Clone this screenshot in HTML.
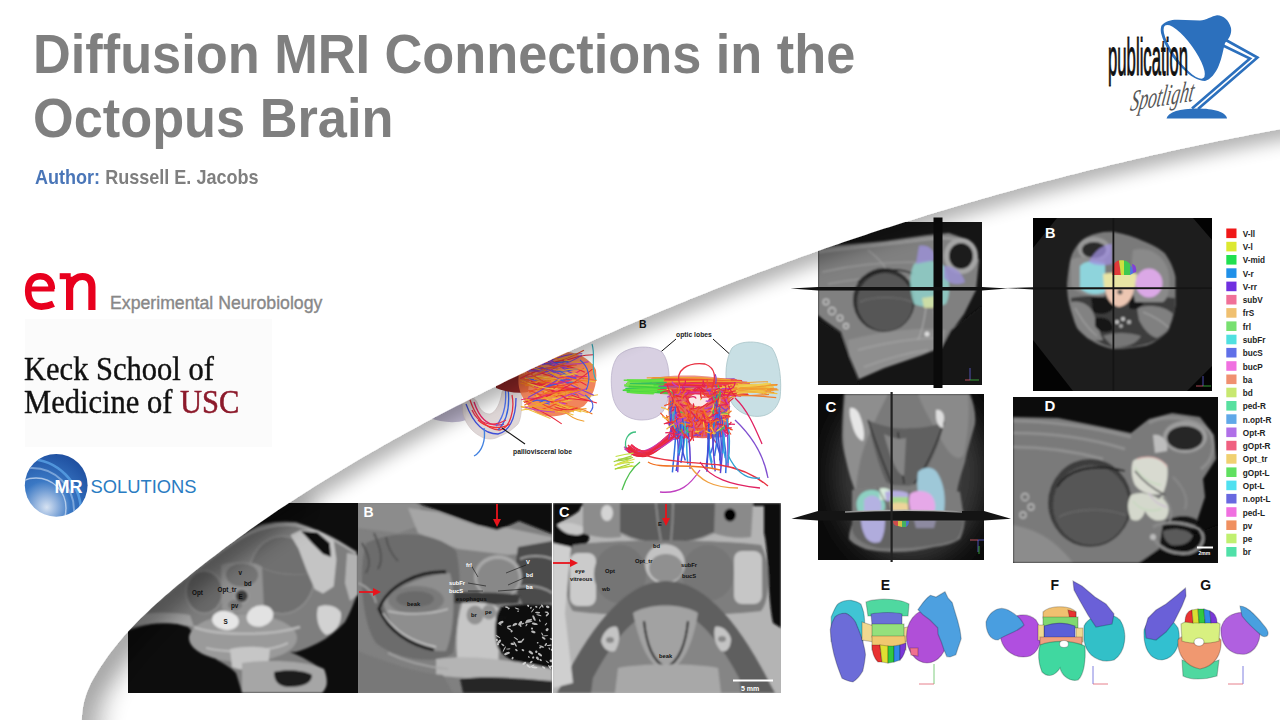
<!DOCTYPE html>
<html><head><meta charset="utf-8">
<style>
html,body{margin:0;padding:0;background:#fff;}
#s{position:relative;width:1280px;height:720px;overflow:hidden;background:#fff;font-family:"Liberation Sans",sans-serif;}
.abs{position:absolute;}
#title{position:absolute;left:33px;top:22px;color:#7f7f7f;font-weight:bold;font-size:55px;line-height:64px;white-space:nowrap;transform:scaleX(0.951);transform-origin:0 0;}
#author{position:absolute;left:35px;top:165px;font-weight:bold;font-size:20.5px;color:#7f7f7f;white-space:nowrap;transform:scaleX(0.88);transform-origin:0 0;}
#author b{color:#4a76b8;}
</style></head><body>
<div id="s">
  <!-- bottom-left MRI strip -->

  <!-- MRI panel A -->
  <svg class="abs" style="left:128px;top:503px" width="230" height="190" viewBox="0 0 230 190">
    <defs>
      <filter id="bA" x="-5%" y="-5%" width="110%" height="110%"><feGaussianBlur stdDeviation="1"/></filter>
    </defs>
    <rect width="230" height="190" fill="#0d0d0d"/>
    <g filter="url(#bA)">
      <path fill="#7e7e7e" d="M0,116 C8,110 12,108 16,105 C35,90 50,75 68,62 C85,50 100,40 114,32 C122,27 128,23 135,21 C148,18 158,18 168,19 C182,24 196,30 206,35 C215,40 222,45 229,50 L230,89 C226,100 222,110 217,119 C208,128 200,135 190,140 C182,144 175,147 168,149 L162,149 C168,151 174,154 179,157 C186,161 192,164 195,168 C198,174 199,180 198,184 L189,190 L114,190 C112,183 110,176 108,170 C102,164 95,160 89,157 C83,150 78,144 73,138 C68,133 64,128 60,124 C50,121 42,119 35,119 C27,120 18,122 11,124 L0,127 Z"/>
      <path fill="none" stroke="#a8a8a8" stroke-width="3" d="M30,97 C50,80 80,55 114,34 C130,25 150,20 168,22 C185,26 200,32 228,50"/>
      <path fill="#a2a2a2" d="M0,114 C15,110 40,108 62,112 L66,124 C50,120 30,118 0,124 Z"/>
      <ellipse cx="76.3" cy="89" rx="19.5" ry="22.5" fill="#8a8a8a"/>
      <ellipse cx="76.3" cy="89" rx="17.5" ry="20.5" fill="#6b6b6b"/>
      <ellipse cx="154" cy="72" rx="34" ry="40" fill="#8a8a8a"/>
      <ellipse cx="154" cy="72" rx="32" ry="38" fill="#6f6f6f"/>
      <path fill="none" stroke="#7e7e7e" stroke-width="1.2" d="M126,60 C140,70 160,74 186,70"/>
      <path fill="#929292" d="M93,62 C100,58 128,58 134,64 L136,106 C128,112 102,112 94,106 Z"/>
      <ellipse cx="114" cy="72" rx="16" ry="11.5" fill="#747474"/>
      <ellipse cx="113.7" cy="93" rx="8" ry="8" fill="#9a9a9a"/>
      <ellipse cx="113.7" cy="93" rx="6" ry="6" fill="#3c3c3c"/>
      <ellipse cx="107" cy="102" rx="7" ry="5" fill="#7a7a7a"/>
      <ellipse cx="115" cy="135" rx="54" ry="24" fill="#9a9a9a"/>
      <path fill="none" stroke="#b8b8b8" stroke-width="2.5" d="M66,124 C85,132 140,134 172,124"/>
      <path fill="none" stroke="#bcbcbc" stroke-width="2" d="M78,145 C100,150 140,150 160,140"/>
      <path fill="#c6c6c6" d="M102,146 C115,143 132,143 142,146 L140,164 C128,168 112,168 104,164 Z"/>
      <ellipse cx="97.5" cy="117.5" rx="13.5" ry="9.5" fill="#e6e6e6" transform="rotate(10 97.5 117.5)"/>
      <ellipse cx="132" cy="113" rx="13.5" ry="10.5" fill="#e2e2e2" transform="rotate(-15 132 113)"/>
      <path fill="#a6a6a6" d="M114,160 C140,156 180,158 196,166 C200,176 200,184 194,190 L114,190 Z"/>
      <path fill="#1a1a1a" d="M146,169 C158,166 176,167 184,172 C184,180 176,184 160,184 C150,183 146,178 146,169 Z"/>
      <path fill="#c4c4c4" d="M162.4,32 L173,27 L189.5,27 L205.7,37.6 L208.4,56.6 L205.7,83.6 L195,90.4 L186.8,86.3 L178.7,67.4 L170.5,45.7 Z"/>
      <path fill="#080808" d="M173,28 L189.5,29.5 L201.7,40 L203,54 L195,51 L184,40 Z"/>
      <path fill="#d2d2d2" d="M190,104 C198,100 210,103 213,110 C214,120 208,130 198,132 C191,128 187,115 190,104 Z"/>
      <path fill="#b2b2b2" d="M219,50 L230,52 L230,92 L222,98 L217,80 Z"/>
    </g>
    <g font-family="Liberation Sans" font-weight="bold" font-size="6.3" fill="#111">
      <text x="64" y="92">Opt</text>
      <text x="89.5" y="89">Opt_tr</text>
      <text x="110.5" y="72">v</text>
      <text x="116" y="82.5">bd</text>
      <text x="110.5" y="96">E</text>
      <text x="103" y="105">pv</text>
      <text x="95.5" y="121">S</text>
    </g>
  </svg>
  <!-- MRI panel B -->
  <svg class="abs" style="left:358px;top:503px" width="194" height="190" viewBox="0 0 194 190">
    <defs>
      <filter id="bB" x="-5%" y="-5%" width="110%" height="110%"><feGaussianBlur stdDeviation="1"/></filter>
      <clipPath id="spB"><path d="M143,104 C160,100 194,102 194,102 L194,166 C170,168 150,160 140,145 C135,130 137,112 143,104 Z"/></clipPath>
    </defs>
    <rect width="194" height="190" fill="#808080"/>
    <g filter="url(#bB)">
      <path fill="#8c8c8c" d="M0,0 H60 L70,20 L40,30 L0,25 Z"/>
      <path fill="#a6a6a6" d="M50,5 L80,9 L120,23 L150,25 L194,34 L194,48 L150,52 L100,46 L60,30 Z"/>
      <path fill="#0c0c0c" d="M58,0 L79,7 L120,22 L139,27 L150,23 L161,18 L194,31 L194,0 Z"/>
      <path fill="#6c6c6c" d="M8,40 C40,25 80,30 98,48 C104,70 102,110 95,150 C80,162 40,158 18,140 C4,120 0,70 8,40 Z"/>
      <path fill="#8e8e8e" d="M25,100 C40,80 70,72 92,70 C98,90 96,130 88,148 C60,150 35,135 25,100 Z"/>
      <ellipse cx="58" cy="97" rx="28" ry="14" fill="#7a7a7a"/>
      <ellipse cx="57" cy="96" rx="19" ry="8" fill="#6a6a6a"/>
      <path fill="none" stroke="#c0c0c0" stroke-width="1.6" d="M30,108 C45,112 70,112 90,106"/>
      <path fill="none" stroke="#0a0a0a" stroke-width="2.8" d="M88,69 C60,68 30,82 21,106 C30,128 52,142 76,147"/>
      <path fill="none" stroke="#d0d0d0" stroke-width="1.4" d="M25,110 C36,128 55,139 78,144"/>
      <path fill="#4c4c4c" d="M160,44 L194,38 L194,100 L165,102 L155,80 Z"/>
      <path fill="none" stroke="#9a9a9a" stroke-width="2" d="M162,56 C170,52 185,52 194,56 M160,84 C172,82 185,84 194,90"/>
      <ellipse cx="140" cy="74" rx="24" ry="22" fill="#a8a8a8"/>
      <ellipse cx="140" cy="75" rx="21" ry="19" fill="#888"/>
      <path fill="#3a3a3a" d="M96,90 C120,88 145,90 162,92 L160,100 C135,102 115,101 96,100 Z"/>
      <path fill="#c6c6c6" d="M104,100 C120,98 140,100 142,108 L140,178 C125,180 110,178 102,172 C96,150 98,120 104,100 Z"/>
      <ellipse cx="117" cy="112" rx="8.5" ry="9.5" fill="#929292"/>
      <ellipse cx="131" cy="109" rx="7" ry="7.5" fill="#909090"/>
      <ellipse cx="146" cy="113" rx="8.5" ry="9.5" fill="#8e8e8e"/>
      <path fill="#0e0e0e" d="M143,104 C160,100 194,102 194,102 L194,166 C170,168 150,160 140,145 C135,130 137,112 143,104 Z"/>
      <path fill="#b4b4b4" d="M78,156 C120,150 170,160 194,166 L194,180 C150,176 100,176 78,172 Z"/>
      <path fill="#262626" d="M102,176 C130,172 170,176 194,178 L194,190 L105,190 Z"/>
      <path fill="#787878" d="M0,148 C30,160 60,170 85,172 L95,190 L0,190 Z"/>
      <path fill="none" stroke="#4a4a4a" stroke-width="1.5" d="M4,40 C10,50 14,60 8,70 M16,30 C22,44 26,56 20,66 M28,34 C30,46 34,52 40,58"/>
      <path fill="none" stroke="#a8a8a8" stroke-width="1.5" d="M0,80 C10,84 16,90 18,100 M30,150 C50,160 70,164 90,166"/>
    </g>
    <g fill="#e4e4e4" clip-path="url(#spB)" opacity="0.8"><ellipse cx="172.9" cy="149.5" rx="2.7" ry="1.3" transform="rotate(34 172.9 149.5)"/><ellipse cx="189.7" cy="103.9" rx="1.9" ry="1.3" transform="rotate(21 189.7 103.9)"/><ellipse cx="188.5" cy="109.2" rx="1.9" ry="0.7" transform="rotate(6 188.5 109.2)"/><ellipse cx="170.1" cy="102.8" rx="1.3" ry="0.8" transform="rotate(58 170.1 102.8)"/><ellipse cx="180.9" cy="112.2" rx="2.7" ry="0.6" transform="rotate(16 180.9 112.2)"/><ellipse cx="145.1" cy="102.1" rx="2.9" ry="0.7" transform="rotate(-40 145.1 102.1)"/><ellipse cx="193.0" cy="157.8" rx="1.5" ry="1.4" transform="rotate(5 193.0 157.8)"/><ellipse cx="176.0" cy="115.1" rx="3.1" ry="1.1" transform="rotate(65 176.0 115.1)"/><ellipse cx="188.0" cy="121.1" rx="1.7" ry="0.6" transform="rotate(-50 188.0 121.1)"/><ellipse cx="141.6" cy="121.3" rx="2.2" ry="0.5" transform="rotate(25 141.6 121.3)"/><ellipse cx="156.9" cy="121.8" rx="2.8" ry="0.9" transform="rotate(-26 156.9 121.8)"/><ellipse cx="164.9" cy="147.1" rx="0.9" ry="1.4" transform="rotate(-67 164.9 147.1)"/><ellipse cx="180.0" cy="156.1" rx="0.8" ry="1.2" transform="rotate(-19 180.0 156.1)"/><ellipse cx="170.4" cy="102.6" rx="0.9" ry="0.7" transform="rotate(64 170.4 102.6)"/><ellipse cx="149.0" cy="150.4" rx="3.0" ry="1.3" transform="rotate(-22 149.0 150.4)"/><ellipse cx="157.9" cy="135.6" rx="2.7" ry="0.6" transform="rotate(35 157.9 135.6)"/><ellipse cx="182.6" cy="157.0" rx="0.9" ry="1.4" transform="rotate(-57 182.6 157.0)"/><ellipse cx="157.1" cy="141.1" rx="3.0" ry="0.8" transform="rotate(59 157.1 141.1)"/><ellipse cx="168.5" cy="122.0" rx="1.6" ry="0.7" transform="rotate(-59 168.5 122.0)"/><ellipse cx="146.3" cy="146.1" rx="3.2" ry="0.6" transform="rotate(-63 146.3 146.1)"/><ellipse cx="193.3" cy="136.1" rx="1.8" ry="0.7" transform="rotate(13 193.3 136.1)"/><ellipse cx="184.3" cy="131.2" rx="1.8" ry="0.6" transform="rotate(58 184.3 131.2)"/><ellipse cx="139.8" cy="133.6" rx="2.8" ry="0.6" transform="rotate(32 139.8 133.6)"/><ellipse cx="191.2" cy="142.3" rx="2.7" ry="0.6" transform="rotate(-9 191.2 142.3)"/><ellipse cx="146.4" cy="156.1" rx="1.5" ry="0.9" transform="rotate(70 146.4 156.1)"/><ellipse cx="185.7" cy="164.5" rx="1.9" ry="0.9" transform="rotate(32 185.7 164.5)"/><ellipse cx="164.8" cy="120.6" rx="1.8" ry="0.6" transform="rotate(-17 164.8 120.6)"/><ellipse cx="193.3" cy="163.4" rx="2.3" ry="0.9" transform="rotate(-23 193.3 163.4)"/><ellipse cx="143.0" cy="119.4" rx="2.7" ry="1.3" transform="rotate(-19 143.0 119.4)"/><ellipse cx="182.0" cy="151.6" rx="2.5" ry="1.1" transform="rotate(36 182.0 151.6)"/><ellipse cx="158.4" cy="147.1" rx="1.5" ry="0.9" transform="rotate(38 158.4 147.1)"/><ellipse cx="176.7" cy="120.8" rx="3.1" ry="1.1" transform="rotate(11 176.7 120.8)"/><ellipse cx="138.6" cy="137.0" rx="1.4" ry="1.1" transform="rotate(-5 138.6 137.0)"/><ellipse cx="183.7" cy="143.4" rx="2.7" ry="0.8" transform="rotate(20 183.7 143.4)"/><ellipse cx="179.3" cy="155.0" rx="1.6" ry="1.3" transform="rotate(52 179.3 155.0)"/><ellipse cx="176.5" cy="164.5" rx="3.1" ry="1.0" transform="rotate(4 176.5 164.5)"/><ellipse cx="147.3" cy="155.5" rx="3.0" ry="0.9" transform="rotate(27 147.3 155.5)"/><ellipse cx="178.3" cy="148.7" rx="1.2" ry="1.2" transform="rotate(11 178.3 148.7)"/><ellipse cx="175.3" cy="128.9" rx="2.3" ry="1.2" transform="rotate(19 175.3 128.9)"/><ellipse cx="178.3" cy="103.8" rx="1.2" ry="0.9" transform="rotate(21 178.3 103.8)"/><ellipse cx="150.3" cy="145.9" rx="2.3" ry="0.5" transform="rotate(-4 150.3 145.9)"/><ellipse cx="150.7" cy="105.5" rx="1.1" ry="0.8" transform="rotate(-45 150.7 105.5)"/><ellipse cx="148.8" cy="104.3" rx="1.9" ry="0.8" transform="rotate(16 148.8 104.3)"/><ellipse cx="171.0" cy="117.2" rx="3.0" ry="0.5" transform="rotate(-13 171.0 117.2)"/><ellipse cx="153.6" cy="128.2" rx="1.1" ry="1.2" transform="rotate(-18 153.6 128.2)"/><ellipse cx="140.0" cy="141.3" rx="1.0" ry="1.0" transform="rotate(-22 140.0 141.3)"/><ellipse cx="170.5" cy="163.3" rx="2.8" ry="0.9" transform="rotate(44 170.5 163.3)"/><ellipse cx="174.0" cy="125.6" rx="1.1" ry="1.0" transform="rotate(9 174.0 125.6)"/><ellipse cx="191.6" cy="164.0" rx="2.3" ry="0.8" transform="rotate(55 191.6 164.0)"/><ellipse cx="138.1" cy="108.9" rx="2.2" ry="1.1" transform="rotate(-50 138.1 108.9)"/><ellipse cx="173.2" cy="159.0" rx="1.7" ry="0.9" transform="rotate(-38 173.2 159.0)"/><ellipse cx="154.3" cy="164.2" rx="1.7" ry="1.4" transform="rotate(58 154.3 164.2)"/><ellipse cx="171.4" cy="118.6" rx="3.2" ry="0.9" transform="rotate(-12 171.4 118.6)"/><ellipse cx="155.9" cy="165.0" rx="2.0" ry="0.8" transform="rotate(-3 155.9 165.0)"/><ellipse cx="144.8" cy="141.8" rx="1.9" ry="0.8" transform="rotate(39 144.8 141.8)"/><ellipse cx="184.3" cy="102.8" rx="2.1" ry="0.7" transform="rotate(61 184.3 102.8)"/><ellipse cx="181.8" cy="117.7" rx="1.4" ry="0.6" transform="rotate(68 181.8 117.7)"/><ellipse cx="154.4" cy="140.9" rx="1.9" ry="1.1" transform="rotate(15 154.4 140.9)"/><ellipse cx="179.6" cy="109.6" rx="2.6" ry="0.8" transform="rotate(5 179.6 109.6)"/><ellipse cx="156.8" cy="121.0" rx="2.1" ry="0.9" transform="rotate(-19 156.8 121.0)"/><ellipse cx="179.7" cy="139.8" rx="0.9" ry="0.7" transform="rotate(-6 179.7 139.8)"/><ellipse cx="189.3" cy="158.8" rx="2.1" ry="0.5" transform="rotate(39 189.3 158.8)"/><ellipse cx="162.0" cy="138.8" rx="2.5" ry="1.1" transform="rotate(-3 162.0 138.8)"/><ellipse cx="189.1" cy="126.7" rx="1.7" ry="1.3" transform="rotate(-42 189.1 126.7)"/><ellipse cx="154.6" cy="155.1" rx="1.0" ry="1.3" transform="rotate(27 154.6 155.1)"/><ellipse cx="162.2" cy="120.3" rx="2.7" ry="1.3" transform="rotate(-50 162.2 120.3)"/><ellipse cx="164.8" cy="137.1" rx="2.0" ry="0.8" transform="rotate(-49 164.8 137.1)"/><ellipse cx="170.8" cy="154.0" rx="1.0" ry="0.7" transform="rotate(45 170.8 154.0)"/><ellipse cx="182.3" cy="144.5" rx="0.9" ry="1.2" transform="rotate(67 182.3 144.5)"/><ellipse cx="193.9" cy="146.9" rx="0.9" ry="1.3" transform="rotate(-39 193.9 146.9)"/><ellipse cx="174.2" cy="162.9" rx="2.5" ry="0.6" transform="rotate(-29 174.2 162.9)"/><ellipse cx="189.4" cy="111.6" rx="2.3" ry="0.9" transform="rotate(-47 189.4 111.6)"/><ellipse cx="172.9" cy="104.8" rx="1.1" ry="0.8" transform="rotate(-60 172.9 104.8)"/><ellipse cx="141.2" cy="138.8" rx="2.6" ry="1.3" transform="rotate(-51 141.2 138.8)"/><ellipse cx="162.2" cy="122.1" rx="2.2" ry="0.9" transform="rotate(61 162.2 122.1)"/><ellipse cx="159.0" cy="105.6" rx="2.5" ry="0.6" transform="rotate(18 159.0 105.6)"/><ellipse cx="166.3" cy="160.3" rx="2.1" ry="1.1" transform="rotate(-33 166.3 160.3)"/><ellipse cx="168.9" cy="118.3" rx="2.6" ry="1.0" transform="rotate(-51 168.9 118.3)"/><ellipse cx="151.1" cy="125.8" rx="2.6" ry="0.7" transform="rotate(30 151.1 125.8)"/><ellipse cx="174.7" cy="107.5" rx="2.4" ry="0.6" transform="rotate(-53 174.7 107.5)"/><ellipse cx="171.3" cy="117.3" rx="2.9" ry="0.9" transform="rotate(-25 171.3 117.3)"/><ellipse cx="182.6" cy="103.9" rx="2.5" ry="0.5" transform="rotate(-49 182.6 103.9)"/><ellipse cx="191.3" cy="145.6" rx="1.3" ry="0.6" transform="rotate(66 191.3 145.6)"/><ellipse cx="175.2" cy="154.5" rx="1.1" ry="1.1" transform="rotate(-20 175.2 154.5)"/><ellipse cx="151.2" cy="123.3" rx="2.3" ry="0.8" transform="rotate(-16 151.2 123.3)"/><ellipse cx="145.6" cy="155.2" rx="2.4" ry="1.2" transform="rotate(-9 145.6 155.2)"/><ellipse cx="185.7" cy="135.1" rx="2.2" ry="1.0" transform="rotate(34 185.7 135.1)"/><ellipse cx="160.1" cy="108.2" rx="0.9" ry="0.7" transform="rotate(-64 160.1 108.2)"/><ellipse cx="187.8" cy="132.8" rx="2.6" ry="0.5" transform="rotate(-4 187.8 132.8)"/><ellipse cx="187.8" cy="141.6" rx="1.8" ry="0.9" transform="rotate(-56 187.8 141.6)"/></g>
    <text x="5.5" y="13.6" font-family="Liberation Sans" font-weight="bold" font-size="14" fill="#fff">B</text>
    <path d="M139,1 V19" stroke="#e8141c" stroke-width="1.8"/><path d="M135,16 L139,24 L143,16 Z" fill="#e8141c"/>
    <path d="M1,89 H17" stroke="#e8141c" stroke-width="1.8"/><path d="M15,85 L23,89 L15,93 Z" fill="#e8141c"/>
    <g stroke="#111" stroke-width="0.6">
      <path d="M113,62 L120,74 M110,80 L128,83 M110,88 L125,88 M168,62 L148,70 M168,74 L150,82 M168,86 L140,88"/>
    </g>
    <g font-family="Liberation Sans" font-weight="bold" font-size="5.8" fill="#fff">
      <text x="108" y="64">frl</text><text x="91" y="82">subFr</text><text x="91" y="90">bucS</text>
      <text x="168" y="61">V</text><text x="168" y="74">bd</text><text x="168" y="86">ba</text>
    </g>
    <g font-family="Liberation Sans" font-weight="bold" font-size="5.8" fill="#111">
      <text x="49" y="103">beak</text><text x="98" y="98">esophagus</text>
      <text x="113" y="114">br</text><text x="127" y="111">pe</text><text x="142" y="116">pv</text>
    </g>
  </svg>
  <!-- MRI panel C -->
  <svg class="abs" style="left:553px;top:503px" width="228" height="190" viewBox="0 0 228 190">
    <defs>
      <filter id="bC" x="-5%" y="-5%" width="110%" height="110%"><feGaussianBlur stdDeviation="1.1"/></filter>
    </defs>
    <rect width="228" height="190" fill="#b4b4b4"/>
    <g filter="url(#bC)">
      <path fill="#0c0c0c" d="M0,0 H30 L26,8 C18,14 8,18 4,22 C10,26 24,28 36,32 C38,40 30,46 14,46 L8,50 L0,52 Z"/>
      <path fill="#c8c8c8" d="M4,22 C12,18 22,20 30,24 C34,28 30,32 24,32 C14,32 8,28 4,22 Z"/>
      <path fill="#0c0c0c" d="M211,0 H228 V125 L220,120 C214,90 216,50 211,30 Z"/>
      <path fill="#0c0c0c" d="M0,0 H228 V3 H0 Z"/>
      <path fill="#8c8c8c" d="M30,0 H68 L68,34 C56,36 40,34 30,30 Z"/>
      <ellipse cx="54" cy="10" rx="6" ry="8" fill="#d4d4d4"/>
      <path fill="#8a8a8a" d="M160,0 H200 L198,34 C186,36 172,34 160,30 Z"/>
      <ellipse cx="177" cy="12" rx="6" ry="6.5" fill="#050505"/>
      <path fill="#5c5c5c" d="M67,0 H162 L161,30 C145,38 128,40 113,40 C98,40 82,38 67,30 Z"/>
      <path fill="none" stroke="#8a8a8a" stroke-width="2" d="M103,0 C104,14 106,28 108,38 M120,0 C120,14 119,28 118,38"/>
      <path fill="none" stroke="#9a9a9a" stroke-width="1.5" d="M67,30 C82,38 98,41 113,41 C128,41 145,38 161,30"/>
      <path fill="#7e7e7e" d="M20,42 C60,36 160,36 208,42 C218,60 218,95 208,108 C160,114 60,114 20,108 C10,95 10,60 20,42 Z"/>
      <rect x="17" y="50" width="26" height="53" rx="8" fill="#cbcbcb"/>
      <rect x="181" y="48" width="28" height="53" rx="8" fill="#c6c6c6"/>
      <ellipse cx="67" cy="71" rx="26" ry="29" fill="#747474"/>
      <ellipse cx="155" cy="70" rx="26" ry="28" fill="#767676"/>
      <ellipse cx="112" cy="61" rx="20" ry="20" fill="#c2c2c2"/>
      <ellipse cx="113" cy="65" rx="17" ry="14" fill="#909090"/>
      <path fill="#5e5e5e" d="M4,190 L8,183 Q60.5,78 113,78 Q165.5,78 218,183 L222,190 Z"/>
      <path fill="#858585" d="M38,190 L40,175 Q76.5,106 113,106 Q149.5,106 186,175 L188,190 Z"/>
      <path fill="#a2a2a2" d="M80,110 C95,100 130,100 145,110 C140,140 130,165 113,168 C96,165 86,140 80,110 Z"/>
      <path fill="none" stroke="#111" stroke-width="2" d="M91,118 C93,140 100,160 113,164 C126,160 133,140 135,118"/>
      <path fill="#c4c4c4" d="M48,138 C50,128 58,122 64,124 C68,132 66,142 62,148 C56,150 50,146 48,138 Z"/><ellipse cx="57" cy="137" rx="4" ry="3" fill="#888"/>
      <path fill="#c4c4c4" d="M162,124 C168,122 176,128 178,136 C178,144 174,150 168,148 C162,142 160,132 162,124 Z"/><ellipse cx="169" cy="136" rx="4" ry="3" fill="#888"/>
      <path fill="#a8a8a8" d="M65,165 C90,160 140,160 165,165 L168,190 L62,190 Z"/>
      <path fill="#cfcfcf" d="M0,40 L18,44 L12,110 L20,180 L0,185 Z"/>
    </g>
    <path d="M180,177.5 H220" stroke="#fff" stroke-width="2"/>
    <text x="188" y="187.5" font-family="Liberation Sans" font-weight="bold" font-size="7" fill="#fff">5 mm</text>
    <text x="6" y="13.8" font-family="Liberation Sans" font-weight="bold" font-size="14.5" fill="#fff">C</text>
    <path d="M113,1 V18" stroke="#e8141c" stroke-width="1.8"/><path d="M109,15 L113,23 L117,15 Z" fill="#e8141c"/>
    <path d="M0,60 H19" stroke="#e8141c" stroke-width="1.8"/><path d="M17,56 L25,60 L17,64 Z" fill="#e8141c"/>
    <g font-family="Liberation Sans" font-weight="bold" font-size="5.8" fill="#111">
      <text x="105" y="23">E</text><text x="100" y="45">bd</text><text x="82" y="60">Opt_tr</text>
      <text x="52" y="70">Opt</text><text x="49" y="88">wb</text><text x="22" y="70">eye</text><text x="17" y="78">vitreous</text>
      <text x="106" y="155">beak</text><text x="128" y="64">subFr</text><text x="129" y="75">bucS</text>
    </g>
  </svg>
  <!-- tractography -->
  <svg class="abs" style="left:0;top:0" width="1280" height="720" viewBox="0 0 1280 720">
    <defs><filter id="bt" x="-10%" y="-10%" width="120%" height="120%"><feGaussianBlur stdDeviation="0.35"/></filter></defs>
    <!-- A part -->
    <path fill="#b8b0cc" opacity="0.85" d="M430,408 C440,402 455,400 466,404 L466,420 C455,424 440,422 430,418 Z"/>
    <path fill="#ddd4d4" opacity="0.92" stroke="#c8bcbc" stroke-width="0.6" d="M462,402 C466,396 474,396 477,402 C480,410 484,414 490,414 C496,412 500,404 502,392 C504,386 514,384 520,388 C523,398 522,418 518,424 C512,430 506,434 500,436 C494,440 486,440 480,436 C472,432 466,424 463,414 Z"/>
    <g fill="none" stroke-width="1.3" filter="url(#bt)">
      <path d="M470,400 C475,415 485,430 500,430 C510,428 515,410 512,395" stroke="#e83040"/>
      <path d="M466,404 C472,420 482,434 498,434 C508,432 516,420 516,398" stroke="#4050d8"/>
      <path d="M474,402 C480,420 490,428 504,424" stroke="#e02060"/>
      <path d="M508,388 C510,405 508,420 498,430" stroke="#3060e0"/>
      <path d="M505,386 C507,400 505,416 496,426" stroke="#5070e8"/>
      <path d="M484,428 C486,440 482,452 474,456" stroke="#4080e0"/>
      <path d="M478,420 C486,428 500,430 510,424" stroke="#f03030"/>
      <path d="M472,410 C478,424 492,428 506,420" stroke="#e83050"/>
    </g>
    <path fill="#8a2424" d="M496,378 C508,372 520,372 530,376 L528,392 C518,394 506,392 496,388 Z"/>
    <path fill="#ee7040" opacity="0.85" d="M519,374 C530,362 548,354 565,352 C578,352 592,360 596,370 C598,385 592,398 584,406 C570,414 555,418 546,416 C535,414 526,406 521,394 C518,386 518,380 519,374 Z"/>
    <g fill="none" stroke-width="1.1" filter="url(#bt)">
      <path d="M540.4,388.2 Q552.1,390.4 563.8,398.9" stroke="#f0a030"/>
      <path d="M543.0,392.0 Q551.3,396.8 559.5,395.4" stroke="#e8283c"/>
      <path d="M551.2,360.3 Q567.7,372.8 584.2,378.7" stroke="#8040d0"/>
      <path d="M522.8,359.9 Q536.2,363.3 549.6,372.8" stroke="#f0502a"/>
      <path d="M530.5,373.9 Q538.0,371.0 545.4,367.1" stroke="#f07820"/>
      <path d="M561.9,362.5 Q577.7,354.7 593.4,354.7" stroke="#e8283c"/>
      <path d="M524.9,373.7 Q531.8,375.5 538.8,368.7" stroke="#f0502a"/>
      <path d="M522.4,378.3 Q534.4,382.8 546.5,383.9" stroke="#f0502a"/>
      <path d="M535.2,374.8 Q546.0,372.9 556.8,366.8" stroke="#e8283c"/>
      <path d="M520.5,383.1 Q535.8,386.5 551.2,380.2" stroke="#f07820"/>
      <path d="M554.6,380.6 Q566.6,384.8 578.5,381.8" stroke="#e8283c"/>
      <path d="M563.9,390.0 Q570.7,393.5 577.4,394.9" stroke="#4060e0"/>
      <path d="M546.0,360.3 Q557.8,352.8 569.6,347.6" stroke="#f0a030"/>
      <path d="M523.3,369.3 Q530.9,369.6 538.6,370.3" stroke="#4060e0"/>
      <path d="M545.9,404.8 Q554.7,400.1 563.5,402.3" stroke="#f0c040"/>
      <path d="M548.3,387.9 Q560.1,385.5 571.8,392.2" stroke="#e8283c"/>
      <path d="M524.9,385.7 Q540.4,385.4 556.0,377.0" stroke="#f07820"/>
      <path d="M542.1,386.1 Q559.1,393.9 576.2,398.7" stroke="#f07820"/>
      <path d="M547.7,362.0 Q565.0,353.5 582.3,353.8" stroke="#8040d0"/>
      <path d="M527.9,377.9 Q536.9,382.8 545.9,378.1" stroke="#c040c0"/>
      <path d="M549.6,395.3 Q558.6,398.3 567.7,393.1" stroke="#e8283c"/>
      <path d="M551.5,410.0 Q564.7,398.8 577.8,396.2" stroke="#f0c040"/>
      <path d="M544.6,397.8 Q559.3,409.0 574.0,411.9" stroke="#f0c040"/>
      <path d="M535.8,395.0 Q552.0,405.1 568.1,408.0" stroke="#f0c040"/>
      <path d="M545.8,391.7 Q559.9,391.9 574.0,389.3" stroke="#e8283c"/>
      <path d="M564.7,405.5 Q576.4,409.3 588.0,412.8" stroke="#f0c040"/>
      <path d="M543.2,374.8 Q550.3,376.3 557.4,372.2" stroke="#e8283c"/>
      <path d="M549.7,384.3 Q560.5,387.5 571.3,390.5" stroke="#f0a030"/>
      <path d="M553.9,376.5 Q565.9,378.5 578.0,385.5" stroke="#f07820"/>
      <path d="M548.5,401.4 Q558.0,399.8 567.5,404.1" stroke="#f0502a"/>
      <path d="M526.1,376.9 Q533.4,381.5 540.8,379.6" stroke="#4060e0"/>
      <path d="M525.1,383.5 Q540.6,391.7 556.1,396.6" stroke="#f07820"/>
      <path d="M552.2,403.5 Q563.3,408.0 574.4,408.9" stroke="#f0502a"/>
      <path d="M532.6,377.1 Q546.5,376.7 560.3,382.4" stroke="#f07820"/>
      <path d="M554.6,372.4 Q570.6,375.0 586.7,385.4" stroke="#e8283c"/>
      <path d="M544.1,392.6 Q552.4,387.8 560.7,387.9" stroke="#f0c040"/>
      <path d="M552.1,398.8 Q560.1,398.4 568.0,397.1" stroke="#f0c040"/>
      <path d="M562.6,385.0 Q570.8,388.1 579.0,396.7" stroke="#e83070"/>
      <path d="M538.5,406.2 Q551.1,403.2 563.7,400.9" stroke="#f0a030"/>
      <path d="M549.3,369.1 Q565.8,378.2 582.3,377.6" stroke="#c040c0"/>
      <path d="M564.0,387.0 Q574.7,390.3 585.4,396.7" stroke="#c040c0"/>
      <path d="M523.7,381.8 Q540.0,385.7 556.4,383.4" stroke="#e8283c"/>
      <path d="M522.9,401.2 Q533.6,403.2 544.4,396.2" stroke="#f0a030"/>
      <path d="M542.2,409.3 Q551.4,406.7 560.6,401.4" stroke="#f0502a"/>
      <path d="M543.5,403.6 Q554.6,400.8 565.7,403.9" stroke="#c040c0"/>
      <path d="M558.3,410.3 Q572.4,410.5 586.5,408.6" stroke="#f0a030"/>
      <path d="M521.2,410.3 Q533.4,407.4 545.5,413.1" stroke="#f0c040"/>
      <path d="M544.2,380.3 Q560.5,383.7 576.8,394.5" stroke="#f07820"/>
      <path d="M539.5,402.0 Q551.5,410.6 563.4,410.7" stroke="#f0502a"/>
      <path d="M525.8,400.1 Q534.5,392.0 543.1,389.0" stroke="#f0a030"/>
      <path d="M542.4,385.0 Q559.7,388.9 576.9,388.8" stroke="#e83070"/>
      <path d="M559.5,359.3 Q576.4,362.3 593.2,364.7" stroke="#f0a030"/>
      <path d="M529.8,369.7 Q544.1,367.3 558.3,368.0" stroke="#8040d0"/>
      <path d="M528.2,390.6 Q537.2,391.4 546.2,400.2" stroke="#f0502a"/>
      <path d="M560.0,365.2 Q571.0,362.2 581.9,355.1" stroke="#8040d0"/>
      <path d="M529.0,391.9 Q537.3,397.9 545.5,397.5" stroke="#f07820"/>
      <path d="M536.3,396.1 Q547.6,402.6 559.0,403.1" stroke="#f0c040"/>
      <path d="M541.7,359.3 Q555.8,361.7 569.8,370.1" stroke="#8040d0"/>
      <path d="M557.8,411.5 Q565.6,411.6 573.5,415.1" stroke="#f0c040"/>
      <path d="M541.0,385.8 Q555.4,386.3 569.8,379.9" stroke="#e83070"/>
      <path d="M528.2,382.5 Q540.0,384.3 551.8,385.8" stroke="#e8283c"/>
      <path d="M520.7,406.2 Q535.6,412.4 550.5,418.4" stroke="#f0c040"/>
      <path d="M564.2,401.5 Q581.1,397.2 598.0,394.8" stroke="#f0c040"/>
      <path d="M560.3,405.5 Q576.4,405.4 592.4,414.0" stroke="#f07820"/>
      <path d="M535.4,383.3 Q545.6,375.7 555.8,373.5" stroke="#f0a030"/>
      <path d="M562.5,394.0 Q577.4,390.7 592.3,389.7" stroke="#f0a030"/>
      <path d="M565.0,392.7 Q580.9,399.0 596.9,403.0" stroke="#e8283c"/>
      <path d="M553.2,371.9 Q561.3,365.8 569.3,367.8" stroke="#f07820"/>
      <path d="M531.3,406.9 Q544.6,410.8 557.9,412.0" stroke="#f0a030"/>
      <path d="M556.4,362.1 Q572.6,366.6 588.7,361.6" stroke="#c040c0"/>
      <path d="M558.5,387.3 Q570.9,387.4 583.3,389.6" stroke="#f0502a"/>
      <path d="M534.1,386.6 Q544.7,390.7 555.3,389.7" stroke="#e83070"/>
      <path d="M521.2,399.7 Q535.9,396.1 550.7,401.5" stroke="#e83070"/>
      <path d="M534.2,379.5 Q549.9,377.3 565.7,380.6" stroke="#f0c040"/>
      <path d="M552.4,371.5 Q560.1,376.1 567.9,372.4" stroke="#f0c040"/>
      <path d="M526.5,409.8 Q541.6,402.7 556.7,398.4" stroke="#f0c040"/>
      <path d="M527.0,377.6 Q538.5,375.5 550.0,369.8" stroke="#e83070"/>
      <path d="M536.4,398.2 Q545.0,400.0 553.6,402.1" stroke="#e8283c"/>
      <path d="M542.6,374.7 Q559.9,376.1 577.1,373.1" stroke="#f0a030"/>
      <path d="M551.5,368.3 Q561.5,364.8 571.5,367.4" stroke="#f07820"/>
      <path d="M550.7,391.9 Q560.0,382.3 569.2,378.3" stroke="#e8283c"/>
      <path d="M532.5,398.8 Q541.1,401.3 549.7,404.2" stroke="#4060e0"/>
      <path d="M535.9,376.3 Q545.0,377.2 554.0,379.1" stroke="#f0c040"/>
      <path d="M557.0,403.3 Q569.1,409.1 581.3,411.9" stroke="#f0c040"/>
      <path d="M564.5,375.6 Q580.6,376.7 596.6,380.5" stroke="#f07820"/>
      <path d="M524.4,405.3 Q532.1,400.0 539.8,398.9" stroke="#f07820"/>
      <path d="M554.9,362.1 Q569.4,358.1 583.9,350.2" stroke="#f0502a"/>
      <path d="M532.7,365.7 Q548.4,363.6 564.1,360.2" stroke="#e8283c"/>
      <path d="M561.3,408.8 Q572.8,419.7 584.3,421.3" stroke="#f0a030"/>
      <path d="M552.8,385.9 Q568.4,377.9 584.0,368.3" stroke="#e83070"/>
      <path d="M555.8,397.9 Q567.7,391.7 579.6,392.0" stroke="#f0a030"/>
      <path d="M524.0,382.5 Q539.8,383.9 555.6,392.0" stroke="#e8283c"/>
      <path d="M533.3,359.2 Q545.0,362.0 556.6,368.1" stroke="#f0502a"/>
      <path d="M532.3,363.7 Q540.0,362.1 547.6,362.0" stroke="#e8283c"/>
      <path d="M552.0,384.4 Q562.5,391.8 573.0,393.1" stroke="#f07820"/>
      <path d="M535.0,365.4 Q551.7,362.0 568.5,361.6" stroke="#4060e0"/>
      <path d="M520.2,378.4 Q531.9,372.1 543.7,368.5" stroke="#e8283c"/>
      <path d="M520.5,363.9 Q536.9,372.2 553.3,376.7" stroke="#e8283c"/>
      <path d="M534.4,379.0 Q545.1,383.2 555.7,382.7" stroke="#f07820"/>
      <path d="M533.7,366.4 Q550.1,372.9 566.5,383.1" stroke="#8040d0"/>
      <path d="M528.9,377.4 Q543.2,378.0 557.6,379.7" stroke="#f07820"/>
      <path d="M560.3,379.7 Q577.0,388.0 593.8,395.3" stroke="#8040d0"/>
      <path d="M558.4,384.2 Q576.8,378.9 595.2,381.9" stroke="#f0c040"/>
      <path d="M558.8,379.6 Q567.5,381.2 576.2,376.9" stroke="#4060e0"/>
      <path d="M554.8,400.5 Q571.2,393.8 587.6,388.2" stroke="#c040c0"/>
      <path d="M531.1,380.8 Q542.5,390.4 554.0,391.9" stroke="#e8283c"/>
      <path d="M556.5,365.1 Q570.6,365.4 584.8,372.2" stroke="#e8283c"/>
      <path d="M529.2,407.5 Q537.6,407.7 546.1,400.1" stroke="#f0a030"/>
      <path d="M551.2,362.5 Q564.5,370.0 577.9,369.3" stroke="#8040d0"/>
      <path d="M524.1,402.6 Q537.3,396.9 550.4,394.9" stroke="#e8283c"/>
      <path d="M534.0,362.1 Q546.6,356.5 559.2,358.9" stroke="#f07820"/>
      <path d="M537.7,382.9 Q553.0,390.0 568.2,399.5" stroke="#e8283c"/>
      <path d="M552.0,370.8 Q564.7,372.7 577.4,368.5" stroke="#4060e0"/>
      <path d="M529.3,391.3 Q540.9,387.3 552.4,386.7" stroke="#f0502a"/>
      <path d="M537.6,394.0 Q547.2,397.0 556.7,391.1" stroke="#f0502a"/>
      <path d="M545.3,397.1 Q562.1,388.5 578.9,388.1" stroke="#e8283c"/>
      <path d="M550.5,396.2 Q562.0,389.7 573.5,391.3" stroke="#f0a030"/>
      <path d="M530.2,366.5 Q541.5,356.7 552.9,354.1" stroke="#4060e0"/>
      <path d="M529.2,366.0 Q542.1,371.3 554.9,374.3" stroke="#f0a030"/>
      <path d="M534.3,400.6 Q552.5,397.5 570.7,391.3" stroke="#f0a030"/>
      <path d="M524.8,378.4 Q541.4,376.4 557.9,381.3" stroke="#f0a030"/>
      <path d="M554.5,406.8 Q566.0,412.2 577.6,407.9" stroke="#e8283c"/>
      <path d="M543.2,396.6 Q552.4,398.6 561.7,406.6" stroke="#f0a030"/>
      <path d="M523.7,371.2 Q539.2,370.3 554.7,372.2" stroke="#8040d0"/>
      <path d="M540.8,364.7 Q548.9,371.0 557.0,376.2" stroke="#f0a030"/>
      <path d="M531.9,407.1 Q546.8,413.4 561.7,423.9" stroke="#e8283c"/>
      <path d="M560.4,371.0 Q577.4,366.8 594.4,371.0" stroke="#f0a030"/>
      <path d="M521.4,367.7 Q537.6,379.3 553.8,386.1" stroke="#f0502a"/>
      <path d="M537.2,390.0 Q544.5,387.5 551.8,392.2" stroke="#f07820"/>
      <path d="M537.4,388.8 Q550.2,381.8 562.9,378.2" stroke="#f0a030"/>
      <path d="M548.9,360.0 Q557.9,367.4 566.9,366.8" stroke="#c040c0"/>
      <path d="M561.1,388.5 Q571.8,393.1 582.5,389.6" stroke="#f07820"/>
      <path d="M551.1,402.6 Q559.2,400.2 567.4,399.5" stroke="#f0502a"/>
      <path d="M521.1,407.0 Q535.4,407.6 549.7,400.5" stroke="#f0a030"/>
      <path d="M559.5,371.2 Q569.2,375.9 578.8,381.1" stroke="#4060e0"/>
      <path d="M524.7,407.1 Q539.8,411.9 554.8,412.0" stroke="#c040c0"/>
      <path d="M559.2,377.9 Q573.2,376.4 587.2,376.5" stroke="#e83070"/>
      <path d="M525.5,361.9 Q534.5,361.0 543.5,365.3" stroke="#c040c0"/>
      <path d="M533.5,375.5 Q549.6,367.8 565.7,363.0" stroke="#f07820"/>
      <path d="M546.3,360.5 Q562.3,356.4 578.2,342.8" stroke="#f07820"/>
      <path d="M541.3,369.2 Q559.0,365.6 576.7,365.0" stroke="#f0502a"/>
      <path d="M541.3,367.3 Q558.9,374.6 576.5,378.9" stroke="#8040d0"/>
      <path d="M533.8,402.2 Q543.3,405.7 552.8,411.0" stroke="#f0a030"/>
      <path d="M527.6,404.5 Q542.0,395.8 556.3,391.2" stroke="#e83070"/>
      <path d="M532.3,401.4 Q541.1,398.5 550.0,402.0" stroke="#4060e0"/>
      <path d="M530.2,365.2 Q542.8,360.7 555.5,366.1" stroke="#8040d0"/>
      <path d="M546.4,387.0 Q560.4,381.5 574.4,382.2" stroke="#4060e0"/>
      <path d="M528.1,397.6 Q542.9,389.9 557.6,379.8" stroke="#8040d0"/>
      <path d="M561.2,389.6 Q576.8,382.1 592.4,369.1" stroke="#e8283c"/>
      <path d="M560.9,375.3 Q568.8,375.7 576.7,373.4" stroke="#f0c040"/>
      <path d="M564.3,398.2 Q578.6,399.1 592.9,401.3" stroke="#e8283c"/>
      <path d="M550.1,387.6 Q565.3,385.1 580.6,381.8" stroke="#f0502a"/>
      <path d="M558.4,390.6 Q567.9,389.6 577.5,389.7" stroke="#e8283c"/>
      <path d="M559.6,375.6 Q574.0,380.6 588.5,381.1" stroke="#f07820"/>
      <path d="M558.6,359.7 Q567.4,357.9 576.2,353.6" stroke="#f0a030"/>
      <path d="M522.4,381.0 Q539.0,387.9 555.6,389.5" stroke="#f0c040"/>
      <path d="M542.4,393.1 Q554.3,393.8 566.1,391.3" stroke="#f07820"/>
      <path d="M546.8,382.5 Q559.5,385.6 572.1,379.4" stroke="#e83070"/>
      <path d="M525.8,398.8 Q534.8,405.5 543.8,402.6" stroke="#f0a030"/>
      <path d="M520.2,380.1 Q528.7,384.9 537.2,381.0" stroke="#f07820"/>
      <path d="M592,344 C596,356 590,370 596,380" stroke="#30b0c0"/>
      <path d="M580,360 C588,366 592,378 586,390" stroke="#4060e0"/>
      <path d="M585,395 C592,400 596,406 590,412" stroke="#4060e0"/>
    </g>
    <path d="M502,428 L525,444" stroke="#111" stroke-width="1.1"/>
    <text x="513" y="453.5" font-family="Liberation Sans" font-weight="bold" font-size="6.8" fill="#222">palliovisceral lobe</text>
    <!-- B part -->
    <text x="639" y="328" font-family="Liberation Sans" font-weight="bold" font-size="10.5" fill="#111">B</text>
    <text x="676" y="336.5" font-family="Liberation Sans" font-weight="bold" font-size="6.8" fill="#222">optic lobes</text>
    <path d="M676,339 L656,356 M713,339 L734,358" stroke="#111" stroke-width="1"/>
    <path fill="#d8d0e2" stroke="#bdb4cc" stroke-width="0.8" d="M618,356 C628,346 650,344 662,352 C670,362 670,380 668,398 C666,412 658,420 642,420 C626,420 614,410 612,392 C610,376 612,364 618,356 Z"/>
    <path fill="#c8dfe4" stroke="#a8c4c8" stroke-width="0.8" d="M732,348 C740,340 760,340 772,348 C780,360 782,382 780,398 C776,412 766,418 752,416 C740,414 730,406 728,392 C724,376 726,358 732,348 Z"/>
    <path fill="#e04a3a" opacity="0.6" d="M660,377 C690,374 720,376 735,382 L735,394 C720,396 690,396 660,394 Z"/>
    <path fill="#e0403a" opacity="0.8" d="M670,386 C690,382 715,384 729,390 C731,410 730,426 722,436 C705,440 688,438 672,434 C668,420 667,400 670,386 Z"/>
    <ellipse cx="699" cy="400" rx="10" ry="6.5" fill="#fff" opacity="0.85"/>
    <g fill="none" stroke-width="1.2" filter="url(#bt)">
      <path d="M644.1,387.3 Q695.2,390.1 742.7,389.2" stroke="#f0502a" stroke-width="1.2"/>
      <path d="M652.8,384.6 Q694.3,381.0 734.7,382.6" stroke="#f0502a" stroke-width="1.2"/>
      <path d="M659.8,380.5 Q698.7,381.9 734.7,378.8" stroke="#8040d0" stroke-width="1.2"/>
      <path d="M655.4,377.5 Q698.7,377.7 736.6,379.5" stroke="#e8283c" stroke-width="1.2"/>
      <path d="M643.9,389.3 Q688.5,391.0 732.5,394.7" stroke="#f07820" stroke-width="1.2"/>
      <path d="M652.1,379.8 Q693.1,380.5 730.7,384.7" stroke="#f0502a" stroke-width="1.2"/>
      <path d="M664.2,390.4 Q706.0,390.2 745.1,394.5" stroke="#f07820" stroke-width="1.2"/>
      <path d="M651.9,389.4 Q692.4,391.3 734.0,394.8" stroke="#f0c040" stroke-width="1.2"/>
      <path d="M651.3,382.8 Q698.1,384.6 749.9,383.9" stroke="#e8283c" stroke-width="1.2"/>
      <path d="M664.8,384.4 Q700.7,386.3 739.8,386.8" stroke="#e83070" stroke-width="1.2"/>
      <path d="M653.9,386.3 Q696.3,385.1 733.6,385.7" stroke="#f0502a" stroke-width="1.2"/>
      <path d="M654.9,381.6 Q695.2,380.1 732.1,380.1" stroke="#e83070" stroke-width="1.2"/>
      <path d="M657.1,387.1 Q705.5,392.7 748.0,392.8" stroke="#f0502a" stroke-width="1.2"/>
      <path d="M654.8,390.2 Q699.5,388.7 739.8,391.3" stroke="#f0502a" stroke-width="1.2"/>
      <path d="M641.7,389.1 Q690.9,388.6 745.5,390.9" stroke="#f0c040" stroke-width="1.2"/>
      <path d="M647.2,383.3 Q692.7,385.5 733.4,381.8" stroke="#f0502a" stroke-width="1.2"/>
      <path d="M658.6,384.2 Q698.2,384.2 735.0,389.9" stroke="#f07820" stroke-width="1.2"/>
      <path d="M645.3,389.6 Q695.2,392.6 745.9,394.6" stroke="#f0a030" stroke-width="1.2"/>
      <path d="M661.2,381.6 Q698.0,382.8 740.7,381.8" stroke="#e83070" stroke-width="1.2"/>
      <path d="M663.8,377.4 Q703.4,377.5 741.9,380.5" stroke="#f0c040" stroke-width="1.2"/>
      <path d="M650.1,391.4 Q696.7,388.1 748.1,390.4" stroke="#e8283c" stroke-width="1.2"/>
      <path d="M651.2,379.1 Q699.5,379.7 747.3,382.4" stroke="#e8283c" stroke-width="1.2"/>
      <path d="M652.3,380.3 Q694.1,380.3 733.3,379.8" stroke="#f0502a" stroke-width="1.2"/>
      <path d="M641.2,387.7 Q691.4,389.5 747.5,391.9" stroke="#e83070" stroke-width="1.2"/>
      <path d="M641.6,388.5 Q688.7,389.2 733.5,392.2" stroke="#f0502a" stroke-width="1.2"/>
      <path d="M641.0,382.8 Q688.6,385.7 736.2,388.0" stroke="#f0502a" stroke-width="1.2"/>
      <path d="M663.7,378.5 Q705.7,378.4 742.0,380.5" stroke="#e83070" stroke-width="1.2"/>
      <path d="M657.5,384.9 Q702.2,383.3 741.2,383.4" stroke="#e83070" stroke-width="1.2"/>
      <path d="M648.0,391.9 Q691.9,392.8 732.2,390.5" stroke="#e8283c" stroke-width="1.2"/>
      <path d="M651.2,386.3 Q690.9,387.2 730.4,389.5" stroke="#f07820" stroke-width="1.2"/>
      <path d="M650.0,380.4 Q691.7,383.0 731.0,381.9" stroke="#f0502a" stroke-width="1.2"/>
      <path d="M658.1,383.8 Q697.2,387.2 734.7,384.9" stroke="#f07820" stroke-width="1.2"/>
      <path d="M642.1,384.2 Q692.7,386.8 739.8,387.9" stroke="#c040c0" stroke-width="1.2"/>
      <path d="M659.0,387.0 Q701.5,391.3 747.2,390.6" stroke="#f0a030" stroke-width="1.2"/>
      <path d="M649.6,386.2 Q695.1,388.0 746.5,391.9" stroke="#8040d0" stroke-width="1.2"/>
      <path d="M647.8,382.9 Q689.2,386.7 732.9,385.3" stroke="#e8283c" stroke-width="1.2"/>
      <path d="M658.6,383.9 Q693.6,385.8 732.2,389.6" stroke="#e83070" stroke-width="1.2"/>
      <path d="M656.0,387.2 Q694.2,392.1 735.2,392.8" stroke="#f0502a" stroke-width="1.2"/>
      <path d="M643.8,387.2 Q688.2,391.3 734.0,390.0" stroke="#f0502a" stroke-width="1.2"/>
      <path d="M651.7,383.6 Q696.3,382.3 742.3,383.8" stroke="#e8283c" stroke-width="1.2"/>
      <path d="M644.7,391.4 Q688.9,390.8 730.7,395.9" stroke="#c040c0" stroke-width="1.2"/>
      <path d="M652.5,377.6 Q694.4,379.7 742.2,381.2" stroke="#f0502a" stroke-width="1.2"/>
      <path d="M642.4,381.6 Q688.5,386.0 739.1,386.8" stroke="#f0502a" stroke-width="1.2"/>
      <path d="M660.6,384.9 Q696.1,383.0 731.0,384.4" stroke="#f0502a" stroke-width="1.2"/>
      <path d="M660.1,389.7 Q704.8,389.7 748.5,394.7" stroke="#e8283c" stroke-width="1.2"/>
      <path d="M662.5,388.2 Q705.7,388.6 745.2,387.7" stroke="#e8283c" stroke-width="1.2"/>
      <path d="M655.5,384.1 Q699.9,383.2 746.0,384.8" stroke="#f0502a" stroke-width="1.2"/>
      <path d="M655.7,390.4 Q694.6,387.8 731.4,388.9" stroke="#f07820" stroke-width="1.2"/>
      <path d="M646.7,377.9 Q689.7,376.8 730.7,379.8" stroke="#f0a030" stroke-width="1.2"/>
      <path d="M642.6,391.0 Q693.1,391.7 740.8,392.2" stroke="#e83070" stroke-width="1.2"/>
      <path d="M642.0,389.4 Q688.3,389.3 734.3,387.7" stroke="#f0502a" stroke-width="1.2"/>
      <path d="M644.4,387.6 Q694.0,389.7 739.9,386.9" stroke="#f0c040" stroke-width="1.2"/>
      <path d="M657.0,380.3 Q703.7,385.7 745.6,385.5" stroke="#f07820" stroke-width="1.2"/>
      <path d="M649.8,391.1 Q698.4,394.0 748.7,395.5" stroke="#e8283c" stroke-width="1.2"/>
      <path d="M655.2,388.3 Q699.3,390.3 742.9,387.6" stroke="#c040c0" stroke-width="1.2"/>
      <path d="M645.2,392.0 Q695.4,393.2 741.1,396.2" stroke="#e83070" stroke-width="1.2"/>
      <path d="M642.1,383.1 Q687.0,382.0 733.6,385.4" stroke="#e83070" stroke-width="1.2"/>
      <path d="M640.7,383.3 Q689.4,380.1 741.6,381.6" stroke="#f0a030" stroke-width="1.2"/>
      <path d="M663.2,384.8 Q704.0,385.4 747.9,387.0" stroke="#e8283c" stroke-width="1.2"/>
      <path d="M656.0,388.6 Q700.1,389.4 745.0,391.8" stroke="#f0502a" stroke-width="1.2"/>
      <path d="M733.9,387.2 Q755.5,386.0 773.6,386.9" stroke="#f0c040" stroke-width="1.2"/>
      <path d="M733.3,387.6 Q749.5,385.9 767.2,385.4" stroke="#f0a030" stroke-width="1.2"/>
      <path d="M728.0,392.0 Q749.4,390.6 774.3,392.6" stroke="#f08030" stroke-width="1.2"/>
      <path d="M736.8,393.7 Q757.3,389.8 772.7,390.2" stroke="#f0d050" stroke-width="1.2"/>
      <path d="M732.0,388.3 Q755.2,389.6 774.0,387.8" stroke="#f0c040" stroke-width="1.2"/>
      <path d="M732.5,387.0 Q755.6,387.2 777.5,389.3" stroke="#f0a030" stroke-width="1.2"/>
      <path d="M738.2,393.0 Q751.2,392.2 769.0,390.0" stroke="#f0d050" stroke-width="1.2"/>
      <path d="M735.8,390.2 Q749.8,392.4 767.1,392.3" stroke="#f08030" stroke-width="1.2"/>
      <path d="M732.0,391.8 Q750.2,389.1 770.9,389.3" stroke="#f0a030" stroke-width="1.2"/>
      <path d="M737.9,384.7 Q760.5,383.5 777.1,385.5" stroke="#f0c040" stroke-width="1.2"/>
      <path d="M736.5,389.9 Q755.8,390.9 773.6,390.2" stroke="#f08030" stroke-width="1.2"/>
      <path d="M732.4,388.2 Q756.0,389.2 777.1,389.2" stroke="#f08030" stroke-width="1.2"/>
      <path d="M733.3,386.8 Q757.6,390.8 778.6,390.0" stroke="#f0a030" stroke-width="1.2"/>
      <path d="M737.0,388.1 Q751.2,385.2 767.5,384.2" stroke="#f0d050" stroke-width="1.2"/>
      <path d="M730.6,384.6 Q751.4,381.5 768.0,381.8" stroke="#f0a030" stroke-width="1.2"/>
      <path d="M729.3,390.4 Q746.3,391.2 766.8,389.7" stroke="#f0c040" stroke-width="1.2"/>
      <path d="M734.5,385.0 Q750.1,385.0 768.9,385.8" stroke="#f0c040" stroke-width="1.2"/>
      <path d="M737.5,395.1 Q755.6,395.3 776.2,397.6" stroke="#f08030" stroke-width="1.2"/>
      <path d="M739.0,388.3 Q755.5,385.9 777.6,384.6" stroke="#f08030" stroke-width="1.2"/>
      <path d="M737.7,389.8 Q753.3,391.7 765.6,390.9" stroke="#f0d050" stroke-width="1.2"/>
      <path d="M734.4,386.0 Q751.7,388.4 770.5,387.3" stroke="#f0d050" stroke-width="1.2"/>
      <path d="M728.6,387.4 Q749.1,384.6 766.4,386.0" stroke="#f0a030" stroke-width="1.2"/>
      <path d="M731.7,385.3 Q750.9,386.6 775.6,384.9" stroke="#f0a030" stroke-width="1.2"/>
      <path d="M737.9,390.2 Q752.7,391.2 766.7,393.9" stroke="#f0a030" stroke-width="1.2"/>
      <path d="M730.4,389.9 Q751.7,386.4 769.9,388.6" stroke="#f0a030" stroke-width="1.2"/>
      <path d="M734.0,386.0 Q748.3,386.3 768.5,383.3" stroke="#f0d050" stroke-width="1.2"/>
      <path d="M738.2,395.6 Q751.7,396.2 769.0,394.4" stroke="#f08030" stroke-width="1.2"/>
      <path d="M738.8,386.2 Q757.2,386.8 770.9,383.3" stroke="#f0d050" stroke-width="1.2"/>
      <path d="M729.7,392.2 Q755.8,391.3 777.4,393.6" stroke="#f0c040" stroke-width="1.2"/>
      <path d="M740.0,387.9 Q756.8,387.0 771.1,391.7" stroke="#f0a030" stroke-width="1.2"/>
      <path d="M626.6,391.9 Q640.8,393.6 653.8,393.8" stroke="#60e040" stroke-width="1.6"/>
      <path d="M629.1,390.7 Q649.3,391.0 667.6,390.7" stroke="#60e040" stroke-width="1.6"/>
      <path d="M625.4,388.6 Q639.5,388.3 655.3,387.2" stroke="#30c060" stroke-width="1.6"/>
      <path d="M628.0,382.2 Q640.3,381.3 652.0,382.1" stroke="#40d040" stroke-width="1.6"/>
      <path d="M626.1,383.8 Q642.6,385.2 658.0,384.7" stroke="#30c060" stroke-width="1.6"/>
      <path d="M626.4,383.6 Q638.2,384.3 650.1,383.3" stroke="#80e050" stroke-width="1.6"/>
      <path d="M629.1,383.4 Q642.1,382.8 656.3,383.6" stroke="#80e050" stroke-width="1.6"/>
      <path d="M622.7,390.3 Q637.2,391.0 652.9,392.2" stroke="#40d040" stroke-width="1.6"/>
      <path d="M623.7,380.3 Q644.8,380.4 664.5,379.0" stroke="#60e040" stroke-width="1.6"/>
      <path d="M627.0,382.2 Q645.2,381.0 663.7,380.6" stroke="#80e050" stroke-width="1.6"/>
      <path d="M627.8,385.0 Q645.6,384.2 664.3,384.2" stroke="#40d040" stroke-width="1.6"/>
      <path d="M624.4,385.6 Q645.3,387.4 665.7,387.6" stroke="#40d040" stroke-width="1.6"/>
      <path d="M625.7,389.3 Q647.2,389.4 666.8,388.0" stroke="#30c060" stroke-width="1.6"/>
      <path d="M629.3,381.1 Q646.7,381.9 662.9,381.0" stroke="#60e040" stroke-width="1.6"/>
      <path d="M626.9,380.1 Q645.8,380.1 663.8,382.1" stroke="#60e040" stroke-width="1.6"/>
      <path d="M629.1,391.3 Q648.6,392.0 667.8,393.2" stroke="#40d040" stroke-width="1.6"/>
      <path d="M626.8,385.2 Q642.5,386.0 657.9,386.2" stroke="#60e040" stroke-width="1.6"/>
      <path d="M629.8,383.9 Q648.5,383.3 666.7,382.5" stroke="#30c060" stroke-width="1.6"/>
      <path d="M628.2,385.1 Q646.6,385.1 663.4,384.6" stroke="#40d040" stroke-width="1.6"/>
      <path d="M629.1,386.0 Q644.1,386.0 658.5,386.0" stroke="#60e040" stroke-width="1.6"/>
      <path d="M628.2,388.9 Q642.0,389.7 655.7,389.4" stroke="#30c060" stroke-width="1.6"/>
      <path d="M627.1,392.1 Q640.1,392.9 654.8,392.7" stroke="#60e040" stroke-width="1.6"/>
      <path d="M624.1,389.8 Q640.9,389.0 657.6,389.9" stroke="#60e040" stroke-width="1.6"/>
      <path d="M626.8,390.5 Q646.0,391.3 666.4,391.9" stroke="#40d040" stroke-width="1.6"/>
      <path d="M627.6,386.6 Q644.1,388.0 660.0,388.5" stroke="#60e040" stroke-width="1.6"/>
      <path d="M630.0,391.0 Q643.4,390.3 657.1,391.5" stroke="#60e040" stroke-width="1.6"/>
      <path d="M624.3,384.9 Q639.8,385.5 653.5,385.6" stroke="#80e050" stroke-width="1.6"/>
      <path d="M628.9,386.4 Q645.1,386.7 660.6,388.0" stroke="#40d040" stroke-width="1.6"/>
      <path d="M726.6,412.0 Q726.1,414.6 719.3,411.4" stroke="#e8283c" stroke-width="1.2"/>
      <path d="M675.2,418.4 Q676.4,416.8 680.6,414.8" stroke="#e02060" stroke-width="1.2"/>
      <path d="M724.1,415.8 Q729.4,417.0 729.5,417.0" stroke="#f07820" stroke-width="1.2"/>
      <path d="M679.9,434.0 Q681.0,433.8 674.4,439.4" stroke="#c040c0" stroke-width="1.2"/>
      <path d="M725.2,404.4 Q722.0,399.0 720.6,399.8" stroke="#c040c0" stroke-width="1.2"/>
      <path d="M709.2,417.9 Q706.9,419.0 712.0,412.7" stroke="#f0c040" stroke-width="1.2"/>
      <path d="M717.0,402.2 Q714.8,408.9 707.6,408.9" stroke="#e8283c" stroke-width="1.2"/>
      <path d="M672.2,424.1 Q676.7,418.2 681.0,418.8" stroke="#e8283c" stroke-width="1.2"/>
      <path d="M719.6,408.3 Q714.0,411.6 711.9,413.0" stroke="#f0502a" stroke-width="1.2"/>
      <path d="M672.4,397.4 Q678.0,392.1 682.5,390.9" stroke="#f07820" stroke-width="1.2"/>
      <path d="M684.8,414.3 Q683.4,412.5 678.2,411.7" stroke="#40c060" stroke-width="1.2"/>
      <path d="M722.6,430.4 Q729.7,424.4 731.4,421.9" stroke="#e8283c" stroke-width="1.2"/>
      <path d="M718.5,419.9 Q720.3,417.7 729.0,421.6" stroke="#f0c040" stroke-width="1.2"/>
      <path d="M698.9,418.3 Q695.3,424.3 693.6,429.8" stroke="#f0502a" stroke-width="1.2"/>
      <path d="M673.5,428.3 Q675.1,432.8 678.7,438.9" stroke="#e8283c" stroke-width="1.2"/>
      <path d="M701.9,433.3 Q702.7,431.7 697.1,436.8" stroke="#e02060" stroke-width="1.2"/>
      <path d="M706.1,433.3 Q707.0,424.6 703.2,420.2" stroke="#e8283c" stroke-width="1.2"/>
      <path d="M718.1,386.0 Q715.2,384.8 714.0,380.5" stroke="#f0502a" stroke-width="1.2"/>
      <path d="M680.9,390.6 Q679.1,397.3 670.6,397.9" stroke="#c040c0" stroke-width="1.2"/>
      <path d="M714.7,386.8 Q717.4,379.9 715.2,374.2" stroke="#8040d0" stroke-width="1.2"/>
      <path d="M672.7,435.1 Q675.7,427.7 672.4,427.7" stroke="#e8283c" stroke-width="1.2"/>
      <path d="M698.1,433.5 Q695.0,434.6 687.8,442.3" stroke="#f0502a" stroke-width="1.2"/>
      <path d="M720.1,426.6 Q716.2,419.5 717.3,419.8" stroke="#e8283c" stroke-width="1.2"/>
      <path d="M726.5,430.7 Q718.2,429.0 715.3,425.4" stroke="#e02060" stroke-width="1.2"/>
      <path d="M682.5,386.3 Q683.1,388.7 690.2,390.7" stroke="#e02060" stroke-width="1.2"/>
      <path d="M691.8,409.2 Q696.1,406.5 696.6,406.2" stroke="#f0c040" stroke-width="1.2"/>
      <path d="M669.0,425.7 Q668.3,416.5 666.2,415.4" stroke="#f0502a" stroke-width="1.2"/>
      <path d="M669.9,435.0 Q675.2,431.0 675.2,432.9" stroke="#e8283c" stroke-width="1.2"/>
      <path d="M723.7,414.4 Q716.0,414.0 713.1,415.8" stroke="#c040c0" stroke-width="1.2"/>
      <path d="M698.0,387.6 Q702.7,390.1 704.7,396.1" stroke="#e8283c" stroke-width="1.2"/>
      <path d="M721.1,415.6 Q721.8,413.3 730.1,406.4" stroke="#8040d0" stroke-width="1.2"/>
      <path d="M683.7,398.2 Q678.5,395.3 671.6,394.9" stroke="#e8283c" stroke-width="1.2"/>
      <path d="M702.1,422.9 Q704.6,423.1 707.2,424.5" stroke="#f0502a" stroke-width="1.2"/>
      <path d="M719.8,392.9 Q722.0,392.2 728.5,390.9" stroke="#f07820" stroke-width="1.2"/>
      <path d="M728.5,412.7 Q726.8,413.8 725.2,417.8" stroke="#e02060" stroke-width="1.2"/>
      <path d="M694.6,391.4 Q700.1,386.6 700.5,387.0" stroke="#e8283c" stroke-width="1.2"/>
      <path d="M688.7,408.6 Q688.6,404.1 682.7,401.9" stroke="#f0c040" stroke-width="1.2"/>
      <path d="M718.2,396.3 Q714.2,394.5 714.4,390.9" stroke="#e02060" stroke-width="1.2"/>
      <path d="M720.6,389.1 Q722.1,393.2 724.5,396.3" stroke="#e8283c" stroke-width="1.2"/>
      <path d="M686.5,431.2 Q687.0,426.6 692.3,425.0" stroke="#e8283c" stroke-width="1.2"/>
      <path d="M672.4,401.5 Q672.0,403.6 669.4,410.9" stroke="#f0502a" stroke-width="1.2"/>
      <path d="M714.4,404.8 Q710.2,408.6 703.0,408.8" stroke="#c040c0" stroke-width="1.2"/>
      <path d="M670.9,397.1 Q670.3,390.4 666.8,389.2" stroke="#f0c040" stroke-width="1.2"/>
      <path d="M681.2,407.6 Q675.0,401.4 670.3,402.6" stroke="#f07820" stroke-width="1.2"/>
      <path d="M704.4,392.0 Q704.8,391.9 701.5,388.0" stroke="#e8283c" stroke-width="1.2"/>
      <path d="M676.7,395.0 Q680.8,388.6 679.0,382.0" stroke="#f07820" stroke-width="1.2"/>
      <path d="M686.8,406.0 Q688.5,403.5 685.8,400.5" stroke="#e02060" stroke-width="1.2"/>
      <path d="M694.3,433.0 Q696.1,433.7 701.1,434.8" stroke="#e8283c" stroke-width="1.2"/>
      <path d="M710.4,428.2 Q708.0,434.8 707.5,439.3" stroke="#e02060" stroke-width="1.2"/>
      <path d="M723.6,415.6 Q726.4,413.2 730.4,417.2" stroke="#e8283c" stroke-width="1.2"/>
      <path d="M722.4,385.5 Q722.5,388.4 730.4,384.9" stroke="#f0c040" stroke-width="1.2"/>
      <path d="M710.6,392.3 Q706.6,391.6 708.3,397.9" stroke="#f0502a" stroke-width="1.2"/>
      <path d="M677.6,394.4 Q672.4,393.9 667.2,397.2" stroke="#c040c0" stroke-width="1.2"/>
      <path d="M671.2,425.6 Q674.9,430.1 676.3,428.2" stroke="#c040c0" stroke-width="1.2"/>
      <path d="M716.7,395.9 Q714.7,398.9 717.8,405.4" stroke="#40c060" stroke-width="1.2"/>
      <path d="M719.7,394.2 Q718.2,395.0 724.4,389.9" stroke="#e02060" stroke-width="1.2"/>
      <path d="M716.6,398.7 Q710.6,402.4 710.1,404.1" stroke="#f0502a" stroke-width="1.2"/>
      <path d="M720.6,428.2 Q727.6,428.3 731.0,434.5" stroke="#f0502a" stroke-width="1.2"/>
      <path d="M702.9,428.2 Q705.1,426.7 712.1,423.0" stroke="#e8283c" stroke-width="1.2"/>
      <path d="M675.0,396.8 Q674.9,394.8 668.3,388.6" stroke="#40c060" stroke-width="1.2"/>
      <path d="M699.7,410.9 Q709.6,413.0 712.2,410.4" stroke="#e8283c" stroke-width="1.2"/>
      <path d="M669.2,422.0 Q668.1,421.2 660.4,412.8" stroke="#f0502a" stroke-width="1.2"/>
      <path d="M695.2,435.6 Q701.9,431.0 703.8,431.2" stroke="#8040d0" stroke-width="1.2"/>
      <path d="M717.0,399.0 Q716.8,395.8 722.3,395.8" stroke="#e8283c" stroke-width="1.2"/>
      <path d="M717.1,394.4 Q715.4,394.4 709.8,400.5" stroke="#8040d0" stroke-width="1.2"/>
      <path d="M683.7,414.0 Q685.9,418.9 688.9,417.0" stroke="#e8283c" stroke-width="1.2"/>
      <path d="M704.0,424.7 Q698.0,416.9 699.3,416.5" stroke="#e8283c" stroke-width="1.2"/>
      <path d="M706.9,412.0 Q706.6,412.4 711.4,409.5" stroke="#c040c0" stroke-width="1.2"/>
      <path d="M686.4,415.7 Q688.4,409.3 685.5,402.4" stroke="#f07820" stroke-width="1.2"/>
      <path d="M688.1,404.9 Q685.5,407.4 679.8,403.7" stroke="#e02060" stroke-width="1.2"/>
      <path d="M727.6,401.5 Q730.7,395.8 735.4,396.8" stroke="#f07820" stroke-width="1.2"/>
      <path d="M683.2,385.5 Q686.0,384.1 685.3,380.3" stroke="#e02060" stroke-width="1.2"/>
      <path d="M725.8,431.7 Q723.6,436.9 718.8,436.9" stroke="#c040c0" stroke-width="1.2"/>
      <path d="M677.9,433.3 Q683.3,436.4 683.3,437.6" stroke="#40c060" stroke-width="1.2"/>
      <path d="M711.9,386.7 Q711.2,391.1 718.2,389.8" stroke="#f0502a" stroke-width="1.2"/>
      <path d="M688.5,419.7 Q686.8,413.4 692.1,408.1" stroke="#e8283c" stroke-width="1.2"/>
      <path d="M728.3,385.5 Q732.1,394.4 736.1,396.4" stroke="#e8283c" stroke-width="1.2"/>
      <path d="M674.4,415.6 Q676.1,420.6 683.0,418.3" stroke="#e8283c" stroke-width="1.2"/>
      <path d="M682.5,423.2 Q685.9,422.2 692.5,417.3" stroke="#c040c0" stroke-width="1.2"/>
      <path d="M673.1,414.6 Q668.5,416.9 664.4,418.3" stroke="#f07820" stroke-width="1.2"/>
      <path d="M709.6,418.2 Q708.1,417.6 701.7,411.8" stroke="#f0502a" stroke-width="1.2"/>
      <path d="M718.8,398.7 Q713.4,395.9 708.2,400.5" stroke="#e02060" stroke-width="1.2"/>
      <path d="M723.4,392.5 Q717.7,389.0 715.2,387.0" stroke="#c040c0" stroke-width="1.2"/>
      <path d="M700.2,412.8 Q707.6,416.5 708.7,418.1" stroke="#f0502a" stroke-width="1.2"/>
      <path d="M717.5,415.0 Q720.8,417.1 720.3,421.1" stroke="#f0502a" stroke-width="1.2"/>
      <path d="M674.0,416.9 Q674.4,418.0 669.1,424.2" stroke="#e02060" stroke-width="1.2"/>
      <path d="M672.5,391.3 Q668.8,388.6 666.8,390.2" stroke="#f0c040" stroke-width="1.2"/>
      <path d="M725.3,424.7 Q722.0,428.3 725.9,436.9" stroke="#c040c0" stroke-width="1.2"/>
      <path d="M676.0,430.3 Q673.7,428.1 672.0,418.2" stroke="#e8283c" stroke-width="1.2"/>
      <path d="M727.3,413.4 Q728.5,416.4 725.8,419.8" stroke="#f0502a" stroke-width="1.2"/>
      <path d="M672.6,418.3 Q673.6,418.8 678.0,415.3" stroke="#f0c040" stroke-width="1.2"/>
      <path d="M711.0,435.0 Q715.8,442.3 717.9,445.5" stroke="#e02060" stroke-width="1.2"/>
      <path d="M688.7,426.2 Q686.9,427.2 679.3,435.1" stroke="#e8283c" stroke-width="1.2"/>
      <path d="M721.7,387.7 Q714.8,391.6 713.3,391.2" stroke="#f0c040" stroke-width="1.2"/>
      <path d="M705.8,385.6 Q709.9,393.3 709.9,394.5" stroke="#c040c0" stroke-width="1.2"/>
      <path d="M699.3,408.7 Q704.7,405.5 708.1,402.7" stroke="#e8283c" stroke-width="1.2"/>
      <path d="M704.1,419.6 Q704.4,423.2 708.3,423.1" stroke="#e8283c" stroke-width="1.2"/>
      <path d="M689.9,422.7 Q688.1,416.8 681.9,412.8" stroke="#f07820" stroke-width="1.2"/>
      <path d="M674.1,424.1 Q680.9,432.4 683.1,433.1" stroke="#f0502a" stroke-width="1.2"/>
      <path d="M726.5,401.4 Q723.2,394.6 714.9,395.0" stroke="#e02060" stroke-width="1.2"/>
      <path d="M705.4,385.9 Q703.0,384.1 703.1,380.3" stroke="#e02060" stroke-width="1.2"/>
      <path d="M725.6,406.6 Q727.1,402.9 733.5,398.0" stroke="#e8283c" stroke-width="1.2"/>
      <path d="M713.4,423.6 Q716.2,419.2 724.3,417.6" stroke="#e8283c" stroke-width="1.2"/>
      <path d="M728.4,394.6 Q731.2,390.9 735.8,390.9" stroke="#e8283c" stroke-width="1.2"/>
      <path d="M691.4,413.7 Q685.9,410.4 686.9,409.4" stroke="#e02060" stroke-width="1.2"/>
      <path d="M724.9,426.4 Q728.6,423.2 734.9,424.4" stroke="#e02060" stroke-width="1.2"/>
      <path d="M712.2,415.5 Q718.5,418.2 718.6,418.5" stroke="#c040c0" stroke-width="1.2"/>
      <path d="M682.3,425.0 Q687.0,423.5 687.8,420.5" stroke="#f07820" stroke-width="1.2"/>
      <path d="M706.6,388.6 Q709.9,384.2 718.7,384.4" stroke="#f0502a" stroke-width="1.2"/>
      <path d="M719.5,397.7 Q715.8,401.0 716.5,402.2" stroke="#40c060" stroke-width="1.2"/>
      <path d="M713.5,418.7 Q708.7,423.6 707.2,422.7" stroke="#e02060" stroke-width="1.2"/>
      <path d="M714.4,392.6 Q711.9,397.4 702.0,397.1" stroke="#e8283c" stroke-width="1.2"/>
      <path d="M724.1,393.9 Q727.5,385.8 724.6,385.3" stroke="#e8283c" stroke-width="1.2"/>
      <path d="M703.0,413.2 Q706.7,423.0 702.9,424.8" stroke="#e02060" stroke-width="1.2"/>
      <path d="M685.1,431.7 Q681.4,433.0 677.2,430.3" stroke="#f0502a" stroke-width="1.2"/>
      <path d="M711.2,433.6 Q711.3,431.5 707.3,427.6" stroke="#f07820" stroke-width="1.2"/>
      <path d="M686.7,398.3 Q694.8,395.0 696.2,398.5" stroke="#e02060" stroke-width="1.2"/>
      <path d="M712.5,420.5 Q717.1,415.8 721.1,412.2" stroke="#c040c0" stroke-width="1.2"/>
      <path d="M711.6,419.3 Q710.5,420.3 705.7,417.4" stroke="#f0c040" stroke-width="1.2"/>
      <path d="M700.3,423.4 Q702.7,415.8 703.7,410.8" stroke="#f0502a" stroke-width="1.2"/>
      <path d="M675.6,385.5 Q679.0,387.6 675.9,392.3" stroke="#f0502a" stroke-width="1.2"/>
      <path d="M716.4,404.2 Q712.9,396.1 712.5,394.6" stroke="#40c060" stroke-width="1.2"/>
      <path d="M727.1,411.3 Q720.5,406.8 719.6,405.1" stroke="#8040d0" stroke-width="1.2"/>
      <path d="M718.1,400.9 Q725.2,401.4 729.5,408.9" stroke="#f0502a" stroke-width="1.2"/>
      <path d="M689.0,433.0 Q682.9,437.6 680.4,438.7" stroke="#e8283c" stroke-width="1.2"/>
      <path d="M714.5,390.9 Q715.0,391.6 718.6,399.9" stroke="#e8283c" stroke-width="1.2"/>
      <path d="M697.1,424.8 Q694.5,420.1 687.6,416.0" stroke="#e8283c" stroke-width="1.2"/>
      <path d="M684.9,432.5 Q679.4,430.8 679.1,432.3" stroke="#e02060" stroke-width="1.2"/>
      <path d="M693.3,429.5 Q691.2,432.8 693.6,440.9" stroke="#e8283c" stroke-width="1.2"/>
      <path d="M679.8,403.8 Q683.7,407.8 684.1,407.6" stroke="#e02060" stroke-width="1.2"/>
      <path d="M720.0,398.7 Q720.3,402.6 717.4,409.3" stroke="#f0c040" stroke-width="1.2"/>
      <path d="M677.5,430.3 Q672.9,430.3 669.0,432.5" stroke="#e8283c" stroke-width="1.2"/>
      <path d="M689.3,392.6 Q684.2,394.5 680.9,394.1" stroke="#c040c0" stroke-width="1.2"/>
      <path d="M712.9,429.1 Q710.9,433.6 703.2,435.9" stroke="#c040c0" stroke-width="1.2"/>
      <path d="M729.0,423.0 Q726.5,431.7 727.3,433.2" stroke="#e8283c" stroke-width="1.2"/>
      <path d="M690.2,423.9 Q684.4,427.1 684.9,433.9" stroke="#8040d0" stroke-width="1.2"/>
      <path d="M673.4,409.4 Q677.7,417.9 676.1,418.6" stroke="#c040c0" stroke-width="1.2"/>
      <path d="M671.8,427.2 Q671.3,423.5 665.9,423.3" stroke="#c040c0" stroke-width="1.2"/>
      <path d="M671.2,433.9 Q673.1,440.2 668.4,440.3" stroke="#e8283c" stroke-width="1.2"/>
      <path d="M676.2,411.9 Q671.1,411.6 671.4,417.6" stroke="#f07820" stroke-width="1.2"/>
      <path d="M720.8,431.8 Q718.1,434.1 709.2,439.0" stroke="#f07820" stroke-width="1.2"/>
      <path d="M716.0,409.0 Q716.7,401.1 718.8,396.0" stroke="#e8283c" stroke-width="1.2"/>
      <path d="M711.5,433.7 Q714.6,436.4 723.6,431.7" stroke="#f0502a" stroke-width="1.2"/>
      <path d="M671.2,412.2 Q669.7,409.7 661.1,407.4" stroke="#f0c040" stroke-width="1.2"/>
      <path d="M671.7,396.9 Q667.7,387.5 667.4,384.7" stroke="#e8283c" stroke-width="1.2"/>
      <path d="M691.9,431.0 Q693.0,435.9 690.3,441.3" stroke="#e8283c" stroke-width="1.2"/>
      <path d="M678.5,414.4 Q672.5,420.3 670.2,420.5" stroke="#e02060" stroke-width="1.2"/>
      <path d="M670.6,407.0 Q675.5,408.0 679.4,406.8" stroke="#e8283c" stroke-width="1.2"/>
      <path d="M703.9,433.7 Q698.5,429.2 700.0,428.6" stroke="#c040c0" stroke-width="1.2"/>
      <path d="M693.5,390.4 Q695.8,385.9 702.0,387.8" stroke="#e02060" stroke-width="1.2"/>
      <path d="M670.6,422.2 Q671.9,413.5 677.5,412.1" stroke="#8040d0" stroke-width="1.2"/>
      <path d="M682.6,435.8 Q682.8,434.4 690.7,431.0" stroke="#e02060" stroke-width="1.2"/>
      <path d="M686.1,421.2 Q683.1,427.7 686.8,429.5" stroke="#8040d0" stroke-width="1.2"/>
      <path d="M705.3,427.5 Q697.7,431.1 697.9,433.3" stroke="#f07820" stroke-width="1.2"/>
      <path d="M700.5,392.6 Q702.3,399.1 700.2,400.0" stroke="#f0c040" stroke-width="1.2"/>
      <path d="M702.2,414.4 Q705.1,416.0 705.6,422.1" stroke="#e02060" stroke-width="1.2"/>
      <path d="M717.2,413.0 Q716.5,417.5 714.8,422.3" stroke="#8040d0" stroke-width="1.2"/>
      <path d="M719.7,397.6 Q720.9,393.1 718.0,384.9" stroke="#40c060" stroke-width="1.2"/>
      <path d="M699.7,412.3 Q694.7,411.3 691.8,409.6" stroke="#f0502a" stroke-width="1.2"/>
      <path d="M725.7,403.4 Q727.0,395.4 730.6,391.5" stroke="#e8283c" stroke-width="1.2"/>
      <path d="M686.4,417.8 Q684.1,417.9 677.6,420.2" stroke="#c040c0" stroke-width="1.2"/>
      <path d="M673.8,398.7 Q674.4,392.1 671.7,389.8" stroke="#e8283c" stroke-width="1.2"/>
      <path d="M718.6,424.4 Q712.1,423.7 710.8,424.8" stroke="#40c060" stroke-width="1.2"/>
      <path d="M683.7,432.3 Q679.4,438.3 673.2,439.5" stroke="#c040c0" stroke-width="1.2"/>
      <path d="M713.3,421.5 Q720.2,422.6 720.4,422.0" stroke="#f0c040" stroke-width="1.2"/>
      <path d="M711.5,428.1 Q712.0,422.2 705.4,416.0" stroke="#f0502a" stroke-width="1.2"/>
      <path d="M683.2,402.3 Q689.3,402.1 689.9,409.7" stroke="#f07820" stroke-width="1.2"/>
      <path d="M673.3,408.7 Q675.2,409.6 669.4,412.1" stroke="#e8283c" stroke-width="1.2"/>
      <path d="M701.7,392.7 Q705.8,397.2 714.4,395.3" stroke="#f0502a" stroke-width="1.2"/>
      <path d="M727.4,389.7 Q735.0,389.0 735.1,381.9" stroke="#e02060" stroke-width="1.2"/>
      <path d="M688.4,411.6 Q694.4,413.8 693.4,415.5" stroke="#c040c0" stroke-width="1.2"/>
      <path d="M719.3,431.5 Q719.6,432.0 725.3,429.8" stroke="#f0502a" stroke-width="1.2"/>
      <path d="M704.5,423.0 Q706.1,433.5 706.2,436.6" stroke="#f0502a" stroke-width="1.2"/>
      <path d="M695.0,423.5 Q685.7,425.8 683.1,423.2" stroke="#f07820" stroke-width="1.2"/>
      <path d="M676.4,434.3 Q675.9,427.8 670.5,425.9" stroke="#e8283c" stroke-width="1.2"/>
      <path d="M689.3,408.9 Q697.5,409.1 699.0,406.5" stroke="#e8283c" stroke-width="1.2"/>
      <path d="M717.5,401.2 Q712.0,401.6 705.9,406.6" stroke="#e8283c" stroke-width="1.2"/>
      <path d="M675.1,424.3 Q678.3,424.2 681.1,421.5" stroke="#c040c0" stroke-width="1.2"/>
      <path d="M711.7,430.4 Q711.3,424.2 710.2,424.2" stroke="#f07820" stroke-width="1.2"/>
      <path d="M673.0,437.7 C658.0,449.7 645.2,465.1 630.2,451.1" stroke="#e8283c" stroke-width="1.3"/>
      <path d="M671.2,437.4 C656.2,449.4 641.9,464.2 626.9,450.2" stroke="#e02060" stroke-width="1.3"/>
      <path d="M668.3,436.7 C653.3,448.7 639.5,462.7 624.5,448.7" stroke="#c040c0" stroke-width="1.3"/>
      <path d="M668.5,436.5 C653.5,448.5 643.1,460.8 628.1,446.8" stroke="#e8283c" stroke-width="1.3"/>
      <path d="M671.8,432.4 C656.8,444.4 644.5,460.0 629.5,446.0" stroke="#e02060" stroke-width="1.3"/>
      <path d="M669.7,434.0 C654.7,446.0 645.2,461.7 630.2,447.7" stroke="#e8283c" stroke-width="1.3"/>
      <path d="M668.6,435.8 C653.6,447.8 642.9,462.0 627.9,448.0" stroke="#d040a0" stroke-width="1.3"/>
      <path d="M676.0,435.3 C661.0,447.3 643.0,464.1 628.0,450.1" stroke="#f03050" stroke-width="1.3"/>
      <path d="M674.3,434.4 C659.3,446.4 640.7,461.1 625.7,447.1" stroke="#c040c0" stroke-width="1.3"/>
      <path d="M674.9,430.6 C659.9,442.6 640.5,461.0 625.5,447.0" stroke="#c040c0" stroke-width="1.3"/>
      <path d="M671.9,433.5 C656.9,445.5 640.9,461.7 625.9,447.7" stroke="#d040a0" stroke-width="1.3"/>
      <path d="M669.6,437.5 C654.6,449.5 643.1,461.5 628.1,447.5" stroke="#e02060" stroke-width="1.3"/>
      <path d="M675.7,436.1 C660.7,448.1 644.7,464.4 629.7,450.4" stroke="#e8283c" stroke-width="1.3"/>
      <path d="M670.5,434.5 C655.5,446.5 645.7,459.3 630.7,445.3" stroke="#f03050" stroke-width="1.3"/>
      <path d="M670.8,436.7 C655.8,448.7 643.8,461.4 628.8,447.4" stroke="#e8283c" stroke-width="1.3"/>
      <path d="M671.8,437.7 C656.8,449.7 639.9,461.7 624.9,447.7" stroke="#f03050" stroke-width="1.3"/>
      <path d="M674.7,435.8 C659.7,447.8 646.7,459.0 631.7,445.0" stroke="#e02060" stroke-width="1.3"/>
      <path d="M674.4,438.2 C659.4,450.2 639.1,460.8 624.1,446.8" stroke="#c040c0" stroke-width="1.3"/>
      <path d="M673.4,436.4 C658.4,448.4 640.8,461.2 625.8,447.2" stroke="#e8283c" stroke-width="1.3"/>
      <path d="M669.6,436.9 C654.6,448.9 642.8,464.9 627.8,450.9" stroke="#e8283c" stroke-width="1.3"/>
      <path d="M670.7,437.4 C655.7,449.4 646.2,458.6 631.2,444.6" stroke="#f03050" stroke-width="1.3"/>
      <path d="M668.8,437.7 C653.8,449.7 644.1,462.1 629.1,448.1" stroke="#e8283c" stroke-width="1.3"/>
      <path d="M617.6,468.1 Q626.8,466.3 635.7,466.2" stroke="#e0e050" stroke-width="1.2"/>
      <path d="M614.4,465.6 Q621.9,461.9 628.6,460.2" stroke="#c0e040" stroke-width="1.2"/>
      <path d="M616.7,464.6 Q624.6,462.5 633.7,462.4" stroke="#c0e040" stroke-width="1.2"/>
      <path d="M616.5,460.9 Q623.2,460.5 631.3,458.3" stroke="#a0d040" stroke-width="1.2"/>
      <path d="M613.7,461.8 Q623.4,458.4 631.8,455.9" stroke="#a0d040" stroke-width="1.2"/>
      <path d="M615.0,468.9 Q624.3,468.0 632.5,465.6" stroke="#c0e040" stroke-width="1.2"/>
      <path d="M615.8,464.8 Q624.9,462.5 634.6,459.0" stroke="#e0e050" stroke-width="1.2"/>
      <path d="M614.7,469.3 Q621.7,466.2 629.8,464.0" stroke="#a0d040" stroke-width="1.2"/>
      <path d="M617.9,459.4 Q625.2,459.2 633.1,457.5" stroke="#a0d040" stroke-width="1.2"/>
      <path d="M615.6,456.5 Q624.7,454.3 633.5,453.2" stroke="#c0e040" stroke-width="1.2"/>
      <path d="M676.3,427.7 Q679.3,447.6 677.7,462.5" stroke="#4050d8" stroke-width="1.5"/>
      <path d="M681.2,425.1 Q680.5,435.1 678.5,452.1" stroke="#3070e0" stroke-width="1.5"/>
      <path d="M685.1,421.3 Q685.7,440.1 682.4,452.9" stroke="#40c0d0" stroke-width="1.5"/>
      <path d="M682.6,418.5 Q685.4,439.7 680.9,462.9" stroke="#4050d8" stroke-width="1.5"/>
      <path d="M676.2,429.4 Q674.7,449.7 672.4,472.4" stroke="#3070e0" stroke-width="1.5"/>
      <path d="M680.8,420.6 Q680.7,443.5 676.2,471.0" stroke="#4050d8" stroke-width="1.5"/>
      <path d="M687.6,430.5 Q690.7,446.6 690.1,468.8" stroke="#6040d0" stroke-width="1.5"/>
      <path d="M680.7,429.6 Q678.5,449.9 677.7,472.3" stroke="#8040d0" stroke-width="1.5"/>
      <path d="M680.3,423.4 Q679.5,443.7 685.3,460.5" stroke="#4050d8" stroke-width="1.5"/>
      <path d="M687.9,424.9 Q685.6,445.4 687.8,464.1" stroke="#30a0e0" stroke-width="1.5"/>
      <path d="M681.8,426.7 Q683.6,440.0 678.6,455.7" stroke="#3070e0" stroke-width="1.5"/>
      <path d="M682.4,422.3 Q682.6,436.9 678.4,453.4" stroke="#30a0e0" stroke-width="1.5"/>
      <path d="M721.7,427.5 Q727.6,454.0 725.7,473.1" stroke="#3070e0" stroke-width="1.5"/>
      <path d="M719.8,430.4 Q722.8,442.6 719.7,460.3" stroke="#4050d8" stroke-width="1.5"/>
      <path d="M709.4,429.3 Q707.2,444.0 712.1,462.6" stroke="#30a0e0" stroke-width="1.5"/>
      <path d="M713.8,423.9 Q715.3,442.6 710.5,453.5" stroke="#3070e0" stroke-width="1.5"/>
      <path d="M722.9,424.7 Q723.5,445.1 720.4,473.1" stroke="#6040d0" stroke-width="1.5"/>
      <path d="M712.2,429.7 Q713.1,451.2 715.2,471.4" stroke="#6040d0" stroke-width="1.5"/>
      <path d="M725.0,422.3 Q721.2,441.7 725.3,458.1" stroke="#30a0e0" stroke-width="1.5"/>
      <path d="M727.1,418.3 Q728.2,440.3 728.0,466.2" stroke="#8040d0" stroke-width="1.5"/>
      <path d="M716.1,431.4 Q714.9,439.4 720.2,454.9" stroke="#4050d8" stroke-width="1.5"/>
      <path d="M716.9,420.0 Q719.1,441.8 720.6,466.4" stroke="#4050d8" stroke-width="1.5"/>
      <path d="M717.9,421.1 Q717.9,439.0 714.5,456.0" stroke="#3070e0" stroke-width="1.5"/>
      <path d="M708.9,428.0 Q706.9,448.2 712.7,469.0" stroke="#30a0e0" stroke-width="1.5"/>
      <path d="M709.3,428.7 Q709.2,446.7 706.0,467.7" stroke="#4050d8" stroke-width="1.5"/>
      <path d="M708.8,423.4 Q707.9,448.0 706.9,471.8" stroke="#4050d8" stroke-width="1.5"/>
      <path d="M727.0,419.4 Q731.2,439.8 728.0,463.2" stroke="#30a0e0" stroke-width="1.5"/>
      <path d="M722.0,425.4 Q726.1,438.2 722.6,453.4" stroke="#30a0e0" stroke-width="1.5"/>
      <path d="M672.5,424.8 Q672.6,430.2 670.2,433.5" stroke="#4050d8" stroke-width="1.2"/>
      <path d="M716.5,411.7 Q715.1,418.5 713.6,426.2" stroke="#3070e0" stroke-width="1.2"/>
      <path d="M673.2,397.9 Q672.7,405.3 670.5,410.2" stroke="#4050d8" stroke-width="1.2"/>
      <path d="M719.2,406.0 Q719.0,413.7 717.7,417.8" stroke="#3070e0" stroke-width="1.2"/>
      <path d="M670.7,406.8 Q671.8,414.9 670.6,422.0" stroke="#8040d0" stroke-width="1.2"/>
      <path d="M719.6,413.4 Q719.6,422.5 721.7,428.4" stroke="#6040d0" stroke-width="1.2"/>
      <path d="M673.1,411.5 Q672.1,419.6 675.0,429.2" stroke="#40c0d0" stroke-width="1.2"/>
      <path d="M715.1,403.7 Q713.3,412.2 713.0,417.2" stroke="#4050d8" stroke-width="1.2"/>
      <path d="M675.9,406.2 Q673.6,414.3 673.6,423.7" stroke="#30a0e0" stroke-width="1.2"/>
      <path d="M718.4,413.9 Q716.7,424.0 717.0,431.4" stroke="#3070e0" stroke-width="1.2"/>
      <path d="M671.2,413.8 Q669.8,422.6 669.4,427.8" stroke="#4050d8" stroke-width="1.2"/>
      <path d="M716.7,405.3 Q716.6,409.8 717.4,416.1" stroke="#4050d8" stroke-width="1.2"/>
      <path d="M671.5,423.6 Q670.9,429.8 668.7,439.7" stroke="#8040d0" stroke-width="1.2"/>
      <path d="M717.0,391.4 Q715.4,399.1 717.7,406.4" stroke="#4050d8" stroke-width="1.2"/>
      <path d="M670.8,400.8 Q669.2,410.5 670.5,417.8" stroke="#3070e0" stroke-width="1.2"/>
      <path d="M720.2,408.5 Q719.1,412.4 717.5,418.4" stroke="#3070e0" stroke-width="1.2"/>
      <path d="M676.4,419.5 Q678.0,426.3 679.0,436.4" stroke="#4050d8" stroke-width="1.2"/>
      <path d="M721.0,416.1 Q723.0,421.5 722.6,426.0" stroke="#4050d8" stroke-width="1.2"/>
      <path d="M675.0,406.5 Q675.3,411.4 676.8,417.9" stroke="#4050d8" stroke-width="1.2"/>
      <path d="M718.3,421.2 Q717.7,424.3 715.7,429.8" stroke="#6040d0" stroke-width="1.2"/>
      <path d="M685.2,389.1 Q689.7,387.9 692.5,390.8" stroke="#f07820" stroke-width="1.3"/>
      <path d="M675.2,434.4 Q673.3,433.7 668.6,432.8" stroke="#f07820" stroke-width="1.3"/>
      <path d="M673.7,429.0 Q674.4,431.9 674.7,433.2" stroke="#f0502a" stroke-width="1.3"/>
      <path d="M679.4,422.9 Q678.7,425.4 674.3,423.1" stroke="#c040c0" stroke-width="1.3"/>
      <path d="M715.7,432.9 Q709.9,434.5 705.5,430.8" stroke="#f0c040" stroke-width="1.3"/>
      <path d="M725.2,427.3 Q729.1,429.0 731.7,427.7" stroke="#e02060" stroke-width="1.3"/>
      <path d="M724.8,413.9 Q727.2,413.7 728.9,410.2" stroke="#f0c040" stroke-width="1.3"/>
      <path d="M713.4,431.9 Q710.0,433.9 710.4,435.4" stroke="#f0502a" stroke-width="1.3"/>
      <path d="M717.9,404.8 Q719.8,403.5 720.7,407.9" stroke="#f0502a" stroke-width="1.3"/>
      <path d="M675.4,434.2 Q668.1,431.9 665.3,432.8" stroke="#e02060" stroke-width="1.3"/>
      <path d="M694.5,419.3 Q693.6,414.3 695.7,410.1" stroke="#f07820" stroke-width="1.3"/>
      <path d="M691.7,411.5 Q688.5,417.3 690.9,419.2" stroke="#f0502a" stroke-width="1.3"/>
      <path d="M704.2,427.7 Q703.1,422.6 703.4,418.7" stroke="#f0c040" stroke-width="1.3"/>
      <path d="M669.2,420.5 Q663.9,416.9 662.2,416.6" stroke="#f0c040" stroke-width="1.3"/>
      <path d="M713.0,428.2 Q712.8,428.5 708.7,428.7" stroke="#f0502a" stroke-width="1.3"/>
      <path d="M706.7,417.1 Q704.2,410.9 703.2,407.7" stroke="#f07820" stroke-width="1.3"/>
      <path d="M715.9,427.2 Q720.7,423.5 720.8,424.9" stroke="#c040c0" stroke-width="1.3"/>
      <path d="M687.5,419.0 Q691.6,421.6 693.4,426.8" stroke="#e8283c" stroke-width="1.3"/>
      <path d="M682.1,396.8 Q678.7,395.8 673.1,396.9" stroke="#e8283c" stroke-width="1.3"/>
      <path d="M680.6,393.3 Q682.5,397.2 688.9,396.5" stroke="#f0502a" stroke-width="1.3"/>
      <path d="M708.3,387.1 Q707.6,385.8 707.0,379.0" stroke="#f0502a" stroke-width="1.3"/>
      <path d="M691.4,419.1 Q690.8,417.4 687.1,414.1" stroke="#f0502a" stroke-width="1.3"/>
      <path d="M696.4,412.7 Q698.1,417.1 698.0,422.1" stroke="#e8283c" stroke-width="1.3"/>
      <path d="M682.3,416.5 Q678.3,417.2 678.3,414.2" stroke="#e02060" stroke-width="1.3"/>
      <path d="M681.9,388.5 Q685.0,389.2 683.9,393.2" stroke="#e02060" stroke-width="1.3"/>
      <path d="M675.7,413.8 Q676.5,417.3 680.8,418.3" stroke="#c040c0" stroke-width="1.3"/>
      <path d="M701.3,390.4 Q699.7,395.0 701.7,398.6" stroke="#e8283c" stroke-width="1.3"/>
      <path d="M718.1,413.1 Q715.9,413.8 716.0,409.6" stroke="#e8283c" stroke-width="1.3"/>
      <path d="M690.5,426.8 Q695.7,428.1 697.8,428.4" stroke="#8040d0" stroke-width="1.3"/>
      <path d="M679.9,434.2 Q686.0,436.9 689.4,439.3" stroke="#c040c0" stroke-width="1.3"/>
      <path d="M678.8,403.7 Q678.4,397.4 674.4,396.4" stroke="#f0502a" stroke-width="1.3"/>
      <path d="M686.2,390.7 Q682.0,393.8 681.9,399.2" stroke="#f07820" stroke-width="1.3"/>
      <path d="M675.7,420.4 Q675.3,421.0 670.5,422.4" stroke="#f0502a" stroke-width="1.3"/>
      <path d="M710.5,418.6 Q704.7,419.3 702.7,419.9" stroke="#f0502a" stroke-width="1.3"/>
      <path d="M687.3,403.2 Q687.5,405.1 691.3,412.7" stroke="#f0502a" stroke-width="1.3"/>
      <path d="M681.9,431.2 Q680.5,434.6 677.4,438.6" stroke="#e8283c" stroke-width="1.3"/>
      <path d="M713.2,413.5 Q713.1,416.7 709.0,417.7" stroke="#e02060" stroke-width="1.3"/>
      <path d="M722.5,430.0 Q726.2,436.3 727.8,436.9" stroke="#c040c0" stroke-width="1.3"/>
      <path d="M721.7,398.8 Q727.7,396.7 728.0,398.7" stroke="#f0502a" stroke-width="1.3"/>
      <path d="M692.7,418.5 Q693.0,422.9 691.9,424.4" stroke="#c040c0" stroke-width="1.3"/>
      <path d="M716.4,431.4 Q720.2,429.5 724.1,425.3" stroke="#f0c040" stroke-width="1.3"/>
      <path d="M699.8,436.4 Q696.6,431.3 695.9,430.6" stroke="#f07820" stroke-width="1.3"/>
      <path d="M669.2,390.8 Q665.6,389.8 660.3,393.5" stroke="#e8283c" stroke-width="1.3"/>
      <path d="M695.8,423.0 Q690.6,423.9 690.0,426.5" stroke="#f07820" stroke-width="1.3"/>
      <path d="M711.1,429.4 Q712.9,430.3 716.9,428.7" stroke="#e02060" stroke-width="1.3"/>
      <path d="M719.8,393.0 Q717.6,399.3 713.8,401.8" stroke="#f0502a" stroke-width="1.3"/>
      <path d="M685.7,426.7 Q688.0,425.1 692.1,426.9" stroke="#e8283c" stroke-width="1.3"/>
      <path d="M670.5,427.8 Q674.5,433.4 674.2,434.9" stroke="#e02060" stroke-width="1.3"/>
      <path d="M714.7,391.1 Q715.7,389.1 720.2,388.4" stroke="#e8283c" stroke-width="1.3"/>
      <path d="M716.5,430.5 Q715.3,424.7 716.3,421.4" stroke="#e8283c" stroke-width="1.3"/>
      <path d="M695.0,431.5 Q699.8,431.2 699.6,431.4" stroke="#f0c040" stroke-width="1.3"/>
      <path d="M710.6,426.8 Q714.5,433.1 713.8,434.5" stroke="#f0c040" stroke-width="1.3"/>
      <path d="M674.1,423.2 Q669.2,421.3 663.8,424.0" stroke="#e8283c" stroke-width="1.3"/>
      <path d="M717.3,423.6 Q721.1,425.0 723.3,424.8" stroke="#e8283c" stroke-width="1.3"/>
      <path d="M672.8,435.4 Q675.4,435.3 679.7,433.9" stroke="#e02060" stroke-width="1.3"/>
      <path d="M692.9,408.9 Q694.5,404.6 692.9,403.6" stroke="#e8283c" stroke-width="1.3"/>
      <path d="M673.1,433.4 Q673.5,435.4 676.8,439.2" stroke="#e8283c" stroke-width="1.3"/>
      <path d="M701.0,388.7 Q702.4,388.7 705.8,391.2" stroke="#e8283c" stroke-width="1.3"/>
      <path d="M719.2,420.2 Q713.5,421.7 709.9,421.8" stroke="#f07820" stroke-width="1.3"/>
      <path d="M713.7,413.8 Q712.4,410.6 713.9,405.4" stroke="#40c060" stroke-width="1.3"/>
      <path d="M727.6,413.5 Q728.1,413.7 731.5,410.8" stroke="#f07820" stroke-width="1.3"/>
      <path d="M694.4,413.8 Q695.3,417.5 694.5,419.6" stroke="#8040d0" stroke-width="1.3"/>
      <path d="M675.9,401.2 Q679.8,400.8 681.3,400.2" stroke="#e02060" stroke-width="1.3"/>
      <path d="M702.3,436.4 Q702.3,434.8 703.4,430.9" stroke="#f0502a" stroke-width="1.3"/>
      <path d="M710.5,408.4 Q711.7,409.7 716.6,409.0" stroke="#f0502a" stroke-width="1.3"/>
      <path d="M728.5,434.4 Q725.6,433.2 721.7,427.2" stroke="#e02060" stroke-width="1.3"/>
      <path d="M672.6,404.8 Q667.7,408.2 668.1,409.4" stroke="#f0502a" stroke-width="1.3"/>
      <path d="M726.4,398.2 Q726.0,402.7 728.9,404.0" stroke="#c040c0" stroke-width="1.3"/>
      <path d="M679.4,416.9 Q681.3,414.7 677.8,408.4" stroke="#e8283c" stroke-width="1.3"/>
      <path d="M697.9,430.7 Q697.7,428.9 693.7,427.6" stroke="#f0502a" stroke-width="1.3"/>
      <path d="M671.5,394.6 Q672.8,397.8 674.7,402.1" stroke="#f07820" stroke-width="1.3"/>
      <path d="M726.8,403.8 Q723.6,399.1 724.2,399.0" stroke="#e02060" stroke-width="1.3"/>
      <path d="M689.2,392.0 Q687.8,394.8 682.9,397.8" stroke="#e02060" stroke-width="1.3"/>
      <path d="M674.0,423.8 Q670.4,425.0 666.5,429.2" stroke="#f0c040" stroke-width="1.3"/>
      <path d="M690.5,411.9 Q690.4,416.0 688.5,416.2" stroke="#f0502a" stroke-width="1.3"/>
      <path d="M714.7,432.0 Q713.1,430.5 716.9,425.4" stroke="#f07820" stroke-width="1.3"/>
      <path d="M711.5,399.8 Q708.1,402.0 705.7,400.8" stroke="#c040c0" stroke-width="1.3"/>
      <path d="M724.4,426.4 Q724.5,426.8 719.8,430.8" stroke="#40c060" stroke-width="1.3"/>
      <path d="M690.7,427.0 Q693.6,421.5 691.0,421.0" stroke="#f0502a" stroke-width="1.3"/>
      <path d="M685.4,420.5 Q691.6,420.5 694.3,414.7" stroke="#f0502a" stroke-width="1.3"/>
      <path d="M684.6,426.7 Q685.3,430.5 689.6,432.7" stroke="#40c060" stroke-width="1.3"/>
      <path d="M700.8,436.2 Q698.6,433.8 693.4,435.6" stroke="#8040d0" stroke-width="1.3"/>
      <path d="M717.2,406.8 Q722.0,404.1 727.8,404.7" stroke="#e02060" stroke-width="1.3"/>
      <path d="M685.6,396.7 Q688.4,401.3 690.1,404.7" stroke="#e8283c" stroke-width="1.3"/>
      <path d="M713.1,415.5 Q716.3,412.8 718.5,412.9" stroke="#e8283c" stroke-width="1.3"/>
      <path d="M728.3,433.9 Q726.3,428.7 724.5,424.8" stroke="#e8283c" stroke-width="1.3"/>
      <path d="M697.7,420.0 Q704.3,420.9 705.3,421.2" stroke="#e8283c" stroke-width="1.3"/>
      <path d="M711.3,422.9 Q715.5,418.1 718.2,418.6" stroke="#e8283c" stroke-width="1.3"/>
      <path d="M713.6,401.9 Q711.2,396.7 712.7,397.1" stroke="#e02060" stroke-width="1.3"/>
      <path d="M684.8,430.1 Q684.8,431.1 679.0,435.1" stroke="#c040c0" stroke-width="1.3"/>
      <path d="M710.6,426.7 Q713.2,422.1 712.4,420.5" stroke="#f0502a" stroke-width="1.3"/>
      <path d="M698.1,418.9 Q698.1,414.6 701.5,414.4" stroke="#f07820" stroke-width="1.3"/>
      <path d="M697.6,419.7 Q694.4,415.5 690.8,411.5" stroke="#e8283c" stroke-width="1.3"/>
      <path d="M684.5,433.7 Q687.2,437.0 688.1,438.3" stroke="#e8283c" stroke-width="1.3"/>
      <path d="M682.4,433.9 Q682.7,430.8 678.8,429.9" stroke="#40c060" stroke-width="1.3"/>
      <path d="M720.9,392.8 Q717.7,394.9 716.9,398.4" stroke="#40c060" stroke-width="1.3"/>
      <path d="M681.4,428.6 Q683.8,435.4 685.5,437.7" stroke="#f0502a" stroke-width="1.3"/>
      <path d="M685.0,413.5 Q683.2,409.3 679.7,407.4" stroke="#f0502a" stroke-width="1.3"/>
      <path d="M678.3,386.5 Q673.1,385.0 672.0,381.5" stroke="#c040c0" stroke-width="1.3"/>
      <path d="M696.2,413.3 Q698.9,407.9 699.9,406.6" stroke="#f0502a" stroke-width="1.3"/>
      <path d="M721.4,412.9 Q727.8,413.4 728.5,414.8" stroke="#40c060" stroke-width="1.3"/>
      <path d="M684.9,434.7 Q684.3,437.7 684.0,438.7" stroke="#e8283c" stroke-width="1.3"/>
      <path d="M673.0,403.4 Q673.8,399.8 672.1,397.0" stroke="#e8283c" stroke-width="1.3"/>
      <path d="M710.7,411.2 Q714.0,409.0 713.6,404.2" stroke="#f0c040" stroke-width="1.3"/>
      <path d="M698.4,417.7 Q698.6,420.9 695.2,420.9" stroke="#8040d0" stroke-width="1.3"/>
      <path d="M720.6,414.6 Q721.7,413.8 727.9,414.4" stroke="#f0c040" stroke-width="1.3"/>
      <path d="M703.3,428.6 Q699.6,429.7 693.8,427.3" stroke="#f0502a" stroke-width="1.3"/>
      <path d="M705.0,387.1 Q701.6,387.0 702.8,383.7" stroke="#e8283c" stroke-width="1.3"/>
      <path d="M679.1,423.4 Q684.1,422.0 684.0,425.8" stroke="#f07820" stroke-width="1.3"/>
      <path d="M706.3,390.0 Q708.5,390.9 710.8,390.5" stroke="#8040d0" stroke-width="1.3"/>
      <path d="M677.0,421.7 Q681.3,423.0 681.4,418.5" stroke="#c040c0" stroke-width="1.3"/>
      <path d="M702.9,419.5 Q701.0,424.2 697.6,427.4" stroke="#e8283c" stroke-width="1.3"/>
      <path d="M728.4,426.9 Q729.9,429.7 732.7,429.9" stroke="#f0502a" stroke-width="1.3"/>
      <path d="M684.6,415.1 Q681.3,418.9 678.7,416.9" stroke="#f07820" stroke-width="1.3"/>
      <path d="M676.8,432.7 Q675.3,431.8 672.1,427.3" stroke="#e8283c" stroke-width="1.3"/>
      <path d="M690.0,423.1 Q686.6,422.5 685.4,422.1" stroke="#8040d0" stroke-width="1.3"/>
      <path d="M714.7,431.6 Q714.6,429.3 718.7,426.3" stroke="#c040c0" stroke-width="1.3"/>
      <path d="M694.9,431.0 Q693.3,426.5 693.5,422.6" stroke="#c040c0" stroke-width="1.3"/>
      <path d="M675.2,404.2 Q679.1,409.2 678.0,412.9" stroke="#e8283c" stroke-width="1.3"/>
      <path d="M695.8,415.3 Q698.7,418.3 702.5,423.8" stroke="#f0502a" stroke-width="1.3"/>
      <path d="M720.2,389.7 Q716.5,392.7 714.8,395.9" stroke="#f0502a" stroke-width="1.3"/>
      <path d="M672.8,402.0 Q667.9,404.8 664.2,405.7" stroke="#f0502a" stroke-width="1.3"/>
      <path d="M680,385 C674,370 688,362 705,364 C716,368 716,378 712,388" stroke="#e83040" stroke-width="1.3"/>
      <path d="M628,445 C640,460 680,462 720,465 C740,468 756,476 768,486" stroke="#e83040" stroke-width="1.3"/>
      <path d="M648,462 C660,470 690,462 720,470" stroke="#f07020" stroke-width="1.3"/>
      <path d="M735,420 C752,436 764,456 768,478" stroke="#8050d0" stroke-width="1.3"/>
      <path d="M700,462 C710,478 730,485 760,488" stroke="#e02060" stroke-width="1.3"/>
      <path d="M622,490 C626,478 632,468 640,462" stroke="#50c050" stroke-width="1.3"/>
      <path d="M728,455 C735,470 745,480 760,478" stroke="#30a0d0" stroke-width="1.3"/>
      <path d="M700,470 C690,485 680,494 660,492" stroke="#c040c0" stroke-width="1.3"/>
      <path d="M735,398 C748,410 756,430 762,444" stroke="#e02060" stroke-width="1.3"/>
      <path d="M690,466 C700,480 712,488 738,488" stroke="#f0a040" stroke-width="1.3"/>
      <path d="M626,448 C624,440 628,432 636,432" stroke="#40c080" stroke-width="1.3"/>
    </g>
  </svg>
  <!-- right figure -->
  <svg class="abs" style="left:0;top:0" width="1280" height="720" viewBox="0 0 1280 720">
    <defs>
      <filter id="bR" x="-5%" y="-5%" width="110%" height="110%"><feGaussianBlur stdDeviation="1.1"/></filter>
      <filter id="bR2" x="-10%" y="-10%" width="120%" height="120%"><feGaussianBlur stdDeviation="1.6"/></filter>
      <filter id="bG" x="-30%" y="-30%" width="160%" height="160%"><feGaussianBlur stdDeviation="14"/></filter>
      <clipPath id="cA"><rect x="818" y="222" width="164" height="163"/></clipPath>
      <clipPath id="cB"><rect x="1033" y="218" width="179" height="173"/></clipPath>
      <clipPath id="cC"><rect x="818" y="394" width="166" height="166"/></clipPath>
      <clipPath id="cD"><rect x="1013" y="397" width="205" height="166"/></clipPath>
    </defs>
    <!-- Panel A -->
    <g clip-path="url(#cA)">
      <rect x="818" y="222" width="164" height="163" fill="#151515"/>
      <g transform="translate(818 222)" filter="url(#bR)">
        <path fill="#808080" d="M0,25 L66,19 L109,13 L131,11 L151,18 L161,38 L158,68 L146,92 L133,110 L124,125 L104,133 L66,146 L41,157 L31,133 L23,110 L6,98 L0,93 Z"/>
        <path fill="none" stroke="#9c9c9c" stroke-width="3" d="M0,30 C30,26 70,22 110,17 C125,15 140,16 150,22"/>
        <path fill="none" stroke="#969696" stroke-width="1.5" d="M4,50 C30,44 60,40 100,40 M10,62 C40,56 70,54 96,56 M50,28 C60,36 68,44 70,52"/>
        <path fill="#8e8e8e" d="M30,118 C60,110 100,104 128,108 L124,125 L104,133 L66,146 L41,157 L31,133 Z"/>
        <path fill="none" stroke="#a0a0a0" stroke-width="1.5" d="M40,128 C70,120 100,116 122,116 M46,145 C70,136 95,130 110,128"/>
        <ellipse cx="66" cy="78" rx="31" ry="32" fill="#2e2e2e"/>
        <ellipse cx="67" cy="80" rx="28" ry="29" fill="#575757"/>
        <path fill="none" stroke="#6e6e6e" stroke-width="1.2" d="M42,80 C55,74 80,74 94,80"/>
        <path fill="none" stroke="#1a1a1a" stroke-width="1.6" d="M40,60 C52,48 76,44 96,52"/>
        <ellipse cx="143" cy="34" rx="17" ry="18" fill="#a6a6a6"/>
        <ellipse cx="143" cy="34" rx="12" ry="13" fill="#1e1e1e"/>
        <path fill="#151515" d="M133,108 L164,84 L164,163 L118,163 L124,125 Z"/>
        <path fill="#151515" d="M0,98 L23,112 L31,135 L41,163 L0,163 Z"/>
        <g fill="none" stroke="#c4c4c4" stroke-width="1.3"><circle cx="14" cy="89" r="3.5"/><circle cx="22" cy="96" r="2.8"/><circle cx="8" cy="80" r="2.8"/><circle cx="28" cy="104" r="2.5"/></g>
        <path fill="#8ecbc4" opacity="0.92" d="M96,42 C104,36 118,38 126,44 C132,56 133,72 128,82 C118,86 104,86 96,82 C91,68 91,52 96,42 Z"/>
        <path fill="#9a90d2" opacity="0.88" d="M101,24 C110,22 117,28 118,38 L98,42 Z"/>
        <path fill="#9a90d2" opacity="0.85" d="M126,44 C136,44 144,50 147,60 C140,64 131,62 126,56 Z"/>
        <path fill="#dce2a0" opacity="0.8" d="M104,76 L118,74 L116,86 L106,86 Z"/>
        <path fill="none" stroke="#aaa" stroke-width="1.2" d="M108,86 C106,100 104,110 100,118 M116,88 C118,100 118,108 116,114"/>
        <circle cx="109" cy="112" r="2.5" fill="#ddd"/>
      </g>
      <g stroke-width="0.8" fill="none"><path d="M970,368 V380" stroke="#6060d8"/><path d="M970,380 H979" stroke="#40c040"/><path d="M965,380 H970" stroke="#e06070"/></g>
    </g>
    <!-- panel A crosshair -->
    <rect x="933.5" y="217.5" width="9" height="170.5" fill="#0a0a0a"/>
    <path d="M790.5,288.5 L818,287 L982,287 L1008,288.5 L982,290.5 L818,290.5 Z" fill="#111"/>
    <path d="M895,504 C900,500 910,500 920,506" stroke="none" fill="none"/>

    <!-- Panel B -->
    <g clip-path="url(#cB)">
      <rect x="1033" y="218" width="179" height="173" fill="#030303"/>
      <g transform="translate(1033 218)">
        <path fill="#1d1d1d" d="M24,0 L160,0 L179,22 L179,148 L154,173 L40,173 L0,122 L0,30 Z"/>
        <g filter="url(#bR)">
          <path fill="#7a7a7a" d="M38,39 C42,28 48,22 54,19 C62,15 72,13 81,14 C92,16 102,19 110,23 C120,27 127,31 132,35.5 C138,44 141,52 142.5,59 L142.5,88 C141,98 138,106 135,113 C128,120 121,125 113.7,127.6 C103,130 92,131 81,131 C70,129 62,125 54,120 C46,112 41,102 38,93 C35,84 34,74 34,66 C35,56 36,46 38,39 Z"/>
          <path fill="#3e3e3e" d="M38,80 C60,76 100,76 142,80 L142,90 C140,102 134,114 124,122 C110,129 92,131 78,129 C62,125 48,113 40,98 Z"/>
          <path fill="#828282" d="M38,84 C46,82 56,86 60,94 C64,104 66,114 70,122 C60,124 50,118 44,110 C40,102 38,92 38,84 Z"/>
          <path fill="#808080" d="M104,90 C116,86 132,88 140,96 C138,108 132,116 124,120 C116,118 110,110 106,102 Z"/>
          <path fill="#767676" d="M70,118 C80,114 96,114 108,118 C104,126 92,130 80,129 Z"/>
          <path fill="none" stroke="#9a9a9a" stroke-width="1.5" d="M42,90 C48,100 54,110 64,118 M110,94 C120,98 130,104 136,110"/>
          <path fill="#141414" d="M58,80 C68,78 80,80 82,88 C78,96 68,98 60,94 Z"/>
          <path fill="#141414" d="M62,100 C72,98 80,102 80,112 C72,116 66,114 62,108 Z"/>
          <path fill="#141414" d="M96,80 C102,78 108,80 110,86 C106,92 100,92 96,90 Z"/>
          <circle cx="84" cy="104" r="2" fill="#ccc"/><circle cx="90" cy="101" r="2" fill="#ccc"/><circle cx="96" cy="104" r="2" fill="#bbb"/><circle cx="88" cy="108" r="1.8" fill="#bbb"/>
          <ellipse cx="61" cy="31" rx="16" ry="12" fill="#999"/>
          <ellipse cx="61" cy="32" rx="12" ry="8" fill="#2c2c2c"/>
          <path fill="#8c8c8c" d="M38,42 C44,38 56,38 72,42 L72,78 C60,80 45,76 38,68 Z"/>
          <path fill="#8a8a8a" d="M100,32 C115,28 130,36 135,52 C138,66 136,80 130,84 L102,84 C98,66 98,46 100,32 Z"/>
          <path fill="#8ed4dc" d="M47,48 C52,42 64,42 72,46 L72,74 C64,78 52,76 47,70 Z"/>
          <path fill="#a090e0" opacity="0.75" d="M56,44 C60,34 70,26 79,26 L79,46 C70,48 62,48 56,44 Z"/>
          <path fill="#e8e4a4" d="M70,56 C80,54 96,54 104,56 L102,70 C92,72 80,72 71,70 Z"/>
          <path fill="#ecc6b2" d="M72,70 L101,70 C100,80 94,88 86,89 C78,88 73,80 72,70 Z"/>
          <circle cx="87" cy="74" r="2.5" fill="#555"/>
          <ellipse cx="116" cy="65" rx="13.5" ry="14.5" fill="#dba8e6"/>
        </g>
        <path fill="#e03a3a" d="M79.5,57 L79.5,50 C80,46 83,43 86,42.5 L88,57 Z"/>
        <path fill="#cfe040" d="M86,42.5 C88,42.3 90,42.3 91,42.5 L91,57 L88,57 Z"/>
        <path fill="#40c850" d="M91,42.5 C94,43 96,44.5 97.5,47 L97,57 L91,57 Z"/>
        <path fill="#4a78e0" d="M97.5,47 C99,49 100,52 100.5,55 L97,57 Z"/>
        <path fill="#8040d8" d="M99,46 C102,46 104,50 103,54 L100,55 Z"/>
        <text x="12" y="19.8" font-family="Liberation Sans" font-weight="bold" font-size="14.5" fill="#fff">B</text>
        <g stroke-width="0.8" fill="none"><path d="M170,158 V168" stroke="#6060d8"/><path d="M170,168 H178" stroke="#40c040"/><path d="M163,168 H170" stroke="#e06070"/></g>
      </g>
    </g>
    <rect x="1112.5" y="218" width="1.8" height="173" fill="#141414"/>
    <path d="M1005,288 L1033,289.5 L1212,289 L1212,287.3 L1033,287.3 Z" fill="#141414"/>

    <!-- Panel C -->
    <g clip-path="url(#cC)">
      <rect x="818" y="394" width="166" height="166" fill="#0a0a0a"/>
      <g transform="translate(818 394)">
        <ellipse cx="92" cy="80" rx="75" ry="90" fill="#3a3a3a" filter="url(#bG)"/>
        <g filter="url(#bR)">
        <path fill="#7a7a7a" d="M26,0 L152,0 C156,10 158,20 157,30 C153,45 149,56 147,68 C143,80 140,90 139,99 C142,110 146,118 147,125 C146,135 144,141 142,145 C134,150 126,152 116,153 C104,156 90,158 78,158 C66,158 55,157 47,155 C40,152 34,149 31,145 C31,138 33,134 34,130 C37,120 39,110 39,99 C36,90 33,82 31,76 C27,64 24,52 24,42 C24,28 25,14 26,0 Z"/>
        <path fill="#8e8e8e" d="M28,0 L70,0 C60,20 50,40 44,60 C40,75 38,90 38,99 C34,88 30,78 28,64 C25,48 26,24 28,0 Z"/>
        <path fill="#8a8a8a" d="M100,0 L150,0 C152,20 150,40 146,60 C140,70 130,60 120,40 C112,25 104,12 100,0 Z"/>
        <path fill="#606060" d="M50,26 C62,32 80,36 92,34 C104,34 116,32 126,28 C122,50 112,72 100,88 C90,94 78,94 68,88 C60,70 54,48 50,26 Z"/>
        <path fill="none" stroke="#2a2a2a" stroke-width="1.4" d="M50,26 C58,50 66,72 74,90 M126,28 C118,52 108,74 96,90 M80,38 C82,56 84,74 86,90"/>
        <path fill="#858585" d="M66,40 C74,44 82,46 88,44 L86,82 C80,80 74,70 66,40 Z"/>
        <path fill="#e6e6e6" d="M32,14 C36,13 40,16 42,22 C46,32 47,42 45,47 C40,46 36,38 34,30 C32,24 31,18 32,14 Z"/>
        <path fill="#dedede" d="M118,16 C122,15 126,18 126,24 L125,34 C121,34 118,28 118,22 Z"/>
        <path fill="#7c7c7c" d="M34,96 C50,92 70,90 92,92 C110,92 130,94 142,98 L146,124 L34,124 Z"/>
        <path fill="#9ec8d8" d="M100,78 C106,72 116,72 120,80 C126,90 128,104 126,118 L104,118 C100,106 98,90 100,78 Z"/>
        <path fill="#8ed0c2" d="M40,104 C44,96 54,94 62,98 C68,104 68,112 66,118 L40,118 C38,112 38,108 40,104 Z"/>
        <path fill="#b4b2e2" d="M46,106 C50,100 58,100 62,106 C64,110 64,116 62,118 L46,118 Z"/>
        <path fill="#d8ecdc" d="M61,95 C65,93 70,94 73,97 L72,106 L62,106 Z"/>
        <path fill="#b6aee0" d="M67,98 C74,96 86,96 91,100 L90,107 L68,107 Z"/>
        <path fill="#a8d890" d="M72,103 L91,103 L90,111 L73,111 Z"/>
        <path fill="#ecd49a" d="M73,110 C78,108 88,108 91,111 L90,118 L74,118 Z"/>
        <path fill="#e6a8e8" d="M91,101 C96,96 106,96 112,100 C118,106 118,114 116,118 L92,118 C90,112 90,106 91,101 Z"/>
        <path fill="none" stroke="#555" stroke-width="1" d="M60,94 C64,102 68,110 72,117 M92,97 C90,104 90,110 92,117"/>
        <path fill="#646464" d="M34,126 L146,126 C144,136 142,142 138,146 C120,152 90,156 60,154 C44,150 36,144 34,136 Z"/>
        <path fill="#b0acdc" d="M43,126 L67,126 C67,134 66,142 62,148 C56,150 50,148 47,142 C44,136 43,130 43,126 Z"/>
        <path fill="#a8a4c8" opacity="0.6" d="M96,126 L118,126 L116,134 L98,134 Z"/>
        </g>
        <path fill="#e04848" opacity="0.85" d="M75,127 L80,127 L80,132 C77,132 75,130 75,127 Z"/>
        <path fill="#e8d040" opacity="0.85" d="M80,127 L84,127 L84,133 L80,132 Z"/>
        <path fill="#40b860" opacity="0.9" d="M84,127 L88,127 L88,133 L84,133 Z"/>
        <path fill="#4878d8" opacity="0.85" d="M88,127 L91,127 C91,130 90,132 88,133 Z"/>
        <g stroke-width="0.8" fill="none"><path d="M160,146 V158" stroke="#6060d8"/><path d="M160,146 H166" stroke="#6060d8"/><path d="M152,146 H160" stroke="#e06070"/><path d="M161,152 V160" stroke="#40c040"/></g>
      </g>
    </g>
    <path d="M791.5,518.8 L818,511 L984,511 L1011,518.8 L984,520.5 L818,520.5 Z" fill="#141414"/>
    <path d="M845,512 C880,510 930,510 962,512" stroke="#b0b0b0" stroke-width="1.6" fill="none" opacity="0.8"/>
    <rect x="890.5" y="392" width="2.2" height="170" fill="#222"/>
    <text x="825.5" y="412" font-family="Liberation Sans" font-weight="bold" font-size="15" fill="#fff">C</text>

    <!-- Panel D -->
    <g clip-path="url(#cD)">
      <rect x="1013" y="397" width="205" height="166" fill="#0c0c0c"/>
      <g transform="translate(1013 397)" filter="url(#bR)">
        <path fill="#7a7a7a" d="M0,20 L45,21 L90,30 L118,36 L136,22 L159,16 L187,20 L201,38 L203,62 L190,82 L192,100 L184,124 L172,142 L146,152 L126,166 L0,166 Z"/>
        <path fill="none" stroke="#929292" stroke-width="2.5" d="M0,24 C30,24 70,28 118,40 M0,36 C40,36 80,42 112,52 M0,50 C30,50 60,54 90,62"/>
        <path fill="none" stroke="#8e8e8e" stroke-width="3" d="M136,26 C150,18 180,18 196,34 C204,48 200,64 188,72"/>
        <ellipse cx="172" cy="40" rx="22" ry="16" fill="#9c9c9c"/>
        <ellipse cx="172" cy="41" rx="18" ry="12" fill="#262626"/>
        <ellipse cx="77" cy="106" rx="42" ry="44" fill="#3c3c3c"/>
        <ellipse cx="78" cy="108" rx="38" ry="40" fill="#565656"/>
        <path fill="none" stroke="#1e1e1e" stroke-width="1.8" d="M44,90 C55,72 80,66 112,74"/>
        <path fill="none" stroke="#686868" stroke-width="1.4" d="M46,120 C60,112 90,110 112,118"/>
        <path fill="#d8dad0" d="M120,64 C128,58 144,58 154,68 C156,78 153,90 150,96 C140,100 128,96 122,88 C118,80 118,70 120,64 Z"/>
        <path fill="#d4d8cc" d="M118,98 C126,94 138,96 146,102 L150,98 C156,104 158,116 152,122 C144,126 136,122 132,114 C130,122 124,126 118,122 C114,114 114,104 118,98 Z"/>
        <path fill="none" stroke="#e0a0a0" stroke-width="0.9" d="M124,62 C136,58 148,60 154,70"/><path fill="none" stroke="#b8d8b0" stroke-width="0.9" d="M122,70 C128,80 136,86 148,88 M120,104 C126,112 136,116 148,112"/><path fill="none" stroke="#c8a8d8" stroke-width="0.9" d="M136,96 C140,104 146,108 154,110"/>
        <path fill="none" stroke="#555" stroke-width="1.5" d="M122,74 C130,84 140,92 152,98"/>
        <path fill="#bdbdbd" d="M140,38 C148,36 156,44 154,54 L142,56 Z"/>
        <path fill="#151515" d="M150,126 C160,118 176,116 186,124 L172,142 L146,152 Z"/>
        <path fill="#0c0c0c" d="M146,152 L205,128 L205,166 L126,166 Z"/>
        <path fill="none" stroke="#8a8a8a" stroke-width="3" d="M140,130 C150,124 170,124 186,132 C194,140 190,152 176,156 C160,158 146,152 140,140"/>
        <path fill="#5a5a5a" d="M150,134 C160,130 174,132 180,138 C178,146 168,150 158,148 C152,144 150,140 150,134 Z"/>
        <path fill="none" stroke="#8a8a8a" stroke-width="2" d="M160,80 C170,90 176,100 172,112 M150,100 C158,108 160,118 156,126"/>
        <path fill="#8c8c8c" d="M0,128 C20,132 40,140 60,166 L0,166 Z"/>
        <g fill="none" stroke="#bbb" stroke-width="1.3"><circle cx="12" cy="100" r="3.5"/><circle cx="18" cy="110" r="3"/><circle cx="10" cy="118" r="3"/></g>
        <circle cx="140" cy="140" r="3" fill="#bbb"/>
      </g>
      <rect x="1197" y="546.5" width="16" height="2" fill="#fff"/>
      <text x="1198.5" y="555" font-family="Liberation Sans" font-weight="bold" font-size="5" fill="#fff">2mm</text>
      <text x="1044.5" y="411.3" font-family="Liberation Sans" font-weight="bold" font-size="15" fill="#fff">D</text>
    </g>
  </svg>
  <!-- legend -->
  <svg class="abs" style="left:1220px;top:220px" width="60" height="345" viewBox="1220 220 60 345">
    <rect x="1226.3" y="228.5" width="10.2" height="9.6" fill="#f01818"/>
    <text x="1242.8" y="236.8" font-family="Liberation Sans" font-weight="bold" font-size="8.2" fill="#222">V-ll</text>
    <rect x="1226.3" y="241.8" width="10.2" height="9.6" fill="#dce830"/>
    <text x="1242.8" y="250.1" font-family="Liberation Sans" font-weight="bold" font-size="8.2" fill="#222">V-l</text>
    <rect x="1226.3" y="255.0" width="10.2" height="9.6" fill="#20e050"/>
    <text x="1242.8" y="263.3" font-family="Liberation Sans" font-weight="bold" font-size="8.2" fill="#222">V-mid</text>
    <rect x="1226.3" y="268.3" width="10.2" height="9.6" fill="#2090e8"/>
    <text x="1242.8" y="276.6" font-family="Liberation Sans" font-weight="bold" font-size="8.2" fill="#222">V-r</text>
    <rect x="1226.3" y="281.6" width="10.2" height="9.6" fill="#7030e0"/>
    <text x="1242.8" y="289.9" font-family="Liberation Sans" font-weight="bold" font-size="8.2" fill="#222">V-rr</text>
    <rect x="1226.3" y="294.9" width="10.2" height="9.6" fill="#f07098"/>
    <text x="1242.8" y="303.2" font-family="Liberation Sans" font-weight="bold" font-size="8.2" fill="#222">subV</text>
    <rect x="1226.3" y="308.1" width="10.2" height="9.6" fill="#f0c070"/>
    <text x="1242.8" y="316.4" font-family="Liberation Sans" font-weight="bold" font-size="8.2" fill="#222">frS</text>
    <rect x="1226.3" y="321.4" width="10.2" height="9.6" fill="#78e070"/>
    <text x="1242.8" y="329.7" font-family="Liberation Sans" font-weight="bold" font-size="8.2" fill="#222">frl</text>
    <rect x="1226.3" y="334.7" width="10.2" height="9.6" fill="#50e0e0"/>
    <text x="1242.8" y="343.0" font-family="Liberation Sans" font-weight="bold" font-size="8.2" fill="#222">subFr</text>
    <rect x="1226.3" y="347.9" width="10.2" height="9.6" fill="#6070e8"/>
    <text x="1242.8" y="356.2" font-family="Liberation Sans" font-weight="bold" font-size="8.2" fill="#222">bucS</text>
    <rect x="1226.3" y="361.2" width="10.2" height="9.6" fill="#f070e0"/>
    <text x="1242.8" y="369.5" font-family="Liberation Sans" font-weight="bold" font-size="8.2" fill="#222">bucP</text>
    <rect x="1226.3" y="374.5" width="10.2" height="9.6" fill="#f09070"/>
    <text x="1242.8" y="382.8" font-family="Liberation Sans" font-weight="bold" font-size="8.2" fill="#222">ba</text>
    <rect x="1226.3" y="387.7" width="10.2" height="9.6" fill="#c8e870"/>
    <text x="1242.8" y="396.0" font-family="Liberation Sans" font-weight="bold" font-size="8.2" fill="#222">bd</text>
    <rect x="1226.3" y="401.0" width="10.2" height="9.6" fill="#58e0a0"/>
    <text x="1242.8" y="409.3" font-family="Liberation Sans" font-weight="bold" font-size="8.2" fill="#222">ped-R</text>
    <rect x="1226.3" y="414.3" width="10.2" height="9.6" fill="#60a8e8"/>
    <text x="1242.8" y="422.6" font-family="Liberation Sans" font-weight="bold" font-size="8.2" fill="#222">n.opt-R</text>
    <rect x="1226.3" y="427.5" width="10.2" height="9.6" fill="#b070e8"/>
    <text x="1242.8" y="435.8" font-family="Liberation Sans" font-weight="bold" font-size="8.2" fill="#222">Opt-R</text>
    <rect x="1226.3" y="440.8" width="10.2" height="9.6" fill="#f06080"/>
    <text x="1242.8" y="449.1" font-family="Liberation Sans" font-weight="bold" font-size="8.2" fill="#222">gOpt-R</text>
    <rect x="1226.3" y="454.1" width="10.2" height="9.6" fill="#f0d070"/>
    <text x="1242.8" y="462.4" font-family="Liberation Sans" font-weight="bold" font-size="8.2" fill="#222">Opt_tr</text>
    <rect x="1226.3" y="467.4" width="10.2" height="9.6" fill="#60e060"/>
    <text x="1242.8" y="475.7" font-family="Liberation Sans" font-weight="bold" font-size="8.2" fill="#222">gOpt-L</text>
    <rect x="1226.3" y="480.6" width="10.2" height="9.6" fill="#50e0f0"/>
    <text x="1242.8" y="488.9" font-family="Liberation Sans" font-weight="bold" font-size="8.2" fill="#222">Opt-L</text>
    <rect x="1226.3" y="493.9" width="10.2" height="9.6" fill="#6868e0"/>
    <text x="1242.8" y="502.2" font-family="Liberation Sans" font-weight="bold" font-size="8.2" fill="#222">n.opt-L</text>
    <rect x="1226.3" y="507.2" width="10.2" height="9.6" fill="#f070e0"/>
    <text x="1242.8" y="515.5" font-family="Liberation Sans" font-weight="bold" font-size="8.2" fill="#222">ped-L</text>
    <rect x="1226.3" y="520.4" width="10.2" height="9.6" fill="#f09060"/>
    <text x="1242.8" y="528.7" font-family="Liberation Sans" font-weight="bold" font-size="8.2" fill="#222">pv</text>
    <rect x="1226.3" y="533.7" width="10.2" height="9.6" fill="#c0f070"/>
    <text x="1242.8" y="542.0" font-family="Liberation Sans" font-weight="bold" font-size="8.2" fill="#222">pe</text>
    <rect x="1226.3" y="547.0" width="10.2" height="9.6" fill="#50e0a8"/>
    <text x="1242.8" y="555.3" font-family="Liberation Sans" font-weight="bold" font-size="8.2" fill="#222">br</text>
  </svg>
  <!-- 3D renders E F G -->
  <svg class="abs" style="left:0;top:0" width="1280" height="720" viewBox="0 0 1280 720">
    <defs><filter id="b3" x="-10%" y="-10%" width="120%" height="120%"><feGaussianBlur stdDeviation="0.5"/></filter></defs>
    <g font-family="Liberation Sans" font-weight="bold" font-size="14" fill="#111">
      <text x="880.8" y="590.3">E</text><text x="1050.5" y="590.3">F</text><text x="1200.3" y="590.3">G</text>
    </g>
    <g filter="url(#b3)" stroke="#000" stroke-opacity="0.22" stroke-width="1.2">
    <!-- E -->
    <path fill="#40c4d4" d="M831.2,642.2 L831.2,617 C834,610 836,605 838.5,603.4 C843,600.5 847,600 851.1,600.3 C855,601 859,602.5 861,604.3 C863.5,610 864.6,615 864.6,620.5 C864.6,628 864,636 862.8,642.2 L855.6,624.2 C852,619 850,616 847.5,614.2 C844,613 841,614 838.5,617 C836,621 834.5,625 834,629.6 Z"/>
    <path fill="#6c6cd8" d="M834.9,617 C838,614 842,613 845.7,613.3 C850,615 853,618 855.6,622.3 C858,628 860,633 861.9,638.6 C863.5,644 865,649 865.5,654.8 C865,660 864,666 862.8,671 C860,676 856,680 852.9,682 C849,681.5 845,680 842,678.3 C840,673 838,668 836.7,663.9 C834.5,657 833,651 832.1,645.8 C831,640 830.5,634 830.3,629.6 C831,624 833,620 834.9,617 Z"/>
    <path fill="#f0d890" d="M862,622 L874,626 L874,642 L862,640 Z M903,628 L912,626 L912,640 L903,642 Z"/>
    <path fill="#4fd8a0" d="M866,602 C876,598 900,598 909,604 L908,616 L868,616 Z"/>
    <path fill="#6a70d8" d="M871,614 C880,612 896,612 902,614 L902,625 L872,625 Z"/>
    <path fill="#94e07c" d="M872,624 L904,624 L904,637 L872,637 Z"/>
    <path fill="#f0c870" d="M872,636 L905,636 L906,650 L872,650 Z"/>
    <path fill="#e83030" d="M872,645 C872,652 874,658 878,662 L882,662 L880,645 Z"/>
    <path fill="#e0e030" d="M880,645 L882,662 L888,663 L888,646 Z"/>
    <path fill="#30c840" d="M888,646 L888,663 L894,662 L894,646 Z"/>
    <path fill="#3088e8" d="M894,646 L894,662 L900,660 L900,645 Z"/>
    <path fill="#7a38d8" d="M900,645 L900,660 C904,656 906,650 906,643 Z"/>
    <ellipse cx="927" cy="636.5" rx="20.5" ry="26.5" fill="#b050d8"/>
    <path fill="#4da0e0" d="M917.9,609.7 C922,604 926,598 930.5,595.3 L936,597 L945,591.7 L948,598 L952.2,602.5 L955,612 L957.6,620.5 L960,630 L961.2,638.6 L958,648 L955.8,654.8 L950,657 L946.8,656.6 L944,650 L941.4,642.2 L938,634 L937.7,627.8 L930,620 L923.3,615.1 Z"/>
    <path fill="#f07090" d="M910,648 L918,648 L918,656 L911,655 Z"/>
    <!-- F -->
    <path fill="#b050e0" d="M1000,632 C1005,616 1025,610 1036,620 C1044,632 1042,650 1030,656 C1015,660 1000,650 1000,632 Z"/>
    <path fill="#4a9ee0" d="M986,622 C990,610 1000,606 1008,610 C1016,614 1022,620 1024,625 C1018,632 1006,634 998,640 C990,640 986,632 986,622 Z"/>
    <path fill="#f0c070" d="M1043,612 C1050,605 1070,605 1076,612 L1076,618 L1043,618 Z"/>
    <path fill="#e83030" d="M1068,610 L1076,612 L1076,620 L1070,620 Z"/>
    <path fill="#80d870" d="M1043,617 L1078,617 L1078,628 L1043,628 Z"/>
    <path fill="#5a60d8" d="M1044,626 C1055,622 1065,622 1075,626 L1075,638 L1044,638 Z"/>
    <path fill="#f0d890" d="M1038,625 L1044,625 L1044,642 L1038,640 Z M1076,628 L1083,628 L1083,642 L1076,642 Z"/>
    <path fill="#f0a080" d="M1040,637 L1082,637 L1082,645 L1040,645 Z"/>
    <path fill="#40d8a0" d="M1040,645 C1052,640 1072,640 1085,646 C1086,660 1084,675 1078,680 C1070,682 1062,676 1060,668 C1055,676 1048,678 1042,672 C1038,662 1038,652 1040,645 Z"/>
    <ellipse cx="1064" cy="644" rx="4.5" ry="3.5" fill="#fff"/>
    <path fill="#30c0c8" d="M1084,626 C1090,614 1110,610 1120,620 C1128,632 1126,652 1114,660 C1100,664 1086,656 1084,640 Z"/>
    <path fill="#6a60d8" d="M1073,581 L1082,586 L1095,597 L1106,604 L1114,614 L1112,624 L1096,627 L1088,615 L1080,601 L1074,590 Z"/>
    <!-- G -->
    <path fill="#30c0d0" d="M1144,630 C1150,614 1170,614 1178,628 C1182,642 1176,658 1162,660 C1150,660 1143,648 1144,630 Z"/>
    <path fill="#6a60d8" d="M1185.5,588 L1186,596 L1182,606 L1178,614 L1174,622 L1166,632 L1156,640 L1146,638 L1145,628 L1148,618 L1156,610 L1166,604 L1176,596 Z"/>
    <path fill="#50d8a0" d="M1182,660 C1192,664 1210,664 1219,660 L1217,676 C1205,680 1190,680 1183,676 Z"/>
    <path fill="#f09870" d="M1178,640 C1182,632 1215,632 1221,640 C1222,654 1215,666 1200,669 C1185,666 1177,654 1178,640 Z"/>
    
    <path fill="#d8f080" d="M1181,624 C1190,618 1212,618 1220,624 L1219,641 C1210,644 1190,644 1182,641 Z"/>
    <ellipse cx="1199" cy="642" rx="5" ry="4" fill="#fff"/>
    <path fill="#e83030" d="M1185,622 C1185,615 1188,611 1192,610 L1193,623 Z"/>
    <path fill="#d8e030" d="M1192,610 L1198,609 L1199,623 L1193,623 Z"/>
    <path fill="#30c840" d="M1198,609 L1204,609 L1205,623 L1199,623 Z"/>
    <path fill="#3088e8" d="M1204,609 L1210,611 L1211,623 L1205,623 Z"/>
    <path fill="#7a38d8" d="M1210,611 C1215,613 1217,618 1217,623 L1211,623 Z"/>
    <path fill="#b060e0" d="M1221,628 C1225,612 1245,608 1256,618 C1264,630 1260,650 1246,654 C1230,656 1220,645 1221,628 Z"/>
    <path fill="#4aa0e0" d="M1240,606 C1248,606 1258,618 1266,628 C1270,634 1268,638 1262,636 C1255,630 1248,624 1242,616 Z"/>
    </g>
    <!-- axis icons -->
    <g stroke-width="0.8" fill="none">
      <path d="M934,664 V684" stroke="#60c060"/><path d="M919,684 H934" stroke="#e06070"/>
      <path d="M1093,666 V684" stroke="#6060d8"/><path d="M1093,684 H1108" stroke="#e06070"/>
      <path d="M1243,666 V684" stroke="#6060d8"/><path d="M1228,684 H1243" stroke="#e06070"/>
    </g>
  </svg>
  <!-- swoosh -->
  <svg class="abs" style="left:0;top:0" width="1280" height="720" viewBox="0 0 1280 720">
    <defs>
      <filter id="sh" x="-10%" y="-10%" width="130%" height="130%">
        <feGaussianBlur in="SourceAlpha" stdDeviation="9"/>
        <feOffset dx="7" dy="10" result="b"/>
        <feComponentTransfer><feFuncA type="linear" slope="0.3"/></feComponentTransfer>
        <feMerge><feMergeNode/><feMergeNode in="SourceGraphic"/></feMerge>
      </filter>
    </defs>
    <filter id="sh2" x="-50%" y="-20%" width="200%" height="140%"><feGaussianBlur stdDeviation="9"/></filter>
    <path d="M300,496 L260,522.7 L240,536.8 L220,551.5 L200,567.1 L180,583.7 L160,601.6 L140,621.5 L128,633.5 L110,655 L97,672 L89,686 L85,698 L83,710 L82.4,722 L82,760" fill="none" stroke="#000" stroke-width="26" stroke-opacity="0.16" filter="url(#sh2)" transform="translate(12 6)"/>
    <path filter="url(#sh)" fill="#fff" d="M-50,-50 L1330,-50 L1329.9,120.5 L1325.1,121.3 L1320.3,122.1 L1315.6,122.9 L1310.8,123.8 L1306.1,124.6 L1301.3,125.4 L1296.6,126.3 L1291.8,127.1 L1287.1,128.0 L1282.3,128.8 L1277.6,129.7 L1272.8,130.6 L1268.1,131.4 L1263.3,132.3 L1258.6,133.2 L1253.9,134.1 L1249.1,135.0 L1244.4,135.9 L1239.6,136.9 L1234.9,137.8 L1230.2,138.7 L1225.4,139.7 L1220.7,140.6 L1216.0,141.6 L1211.3,142.6 L1206.5,143.6 L1201.8,144.5 L1197.1,145.5 L1192.3,146.5 L1187.6,147.5 L1182.9,148.5 L1178.2,149.6 L1173.5,150.6 L1168.7,151.6 L1164.0,152.7 L1159.3,153.7 L1154.6,154.8 L1149.9,155.8 L1145.2,156.9 L1140.5,158.0 L1135.8,159.1 L1131.1,160.2 L1126.4,161.3 L1121.7,162.4 L1117.0,163.5 L1112.3,164.6 L1107.6,165.7 L1102.9,166.9 L1098.2,168.0 L1093.5,169.2 L1088.8,170.3 L1084.1,171.5 L1079.4,172.7 L1074.7,173.9 L1070.0,175.0 L1065.4,176.2 L1060.7,177.4 L1056.0,178.7 L1051.3,179.9 L1046.7,181.1 L1042.0,182.3 L1037.3,183.6 L1032.6,184.8 L1028.0,186.1 L1023.3,187.3 L1018.7,188.6 L1014.0,189.9 L1009.3,191.2 L1004.7,192.5 L1000.0,193.8 L995.4,195.1 L990.7,196.4 L986.1,197.7 L981.4,199.0 L976.8,200.4 L972.1,201.7 L967.5,203.1 L962.9,204.4 L958.2,205.8 L953.6,207.2 L949.0,208.5 L944.3,209.9 L939.7,211.3 L935.1,212.7 L930.5,214.1 L925.8,215.6 L921.2,217.0 L916.6,218.4 L912.0,219.9 L907.4,221.3 L902.8,222.8 L898.2,224.2 L893.6,225.7 L889.0,227.2 L884.4,228.6 L879.8,230.1 L875.2,231.6 L870.6,233.1 L866.0,234.7 L861.4,236.2 L856.8,237.7 L852.2,239.3 L847.7,240.8 L843.1,242.3 L838.5,243.9 L833.9,245.5 L829.4,247.0 L824.8,248.6 L820.2,250.2 L815.7,251.8 L811.1,253.4 L806.6,255.0 L802.0,256.6 L797.5,258.3 L792.9,259.9 L788.4,261.6 L783.8,263.2 L779.3,264.9 L774.7,266.5 L770.2,268.2 L765.7,269.9 L761.1,271.6 L756.6,273.3 L752.1,275.0 L747.6,276.7 L743.1,278.4 L738.5,280.1 L734.0,281.8 L729.5,283.6 L725.0,285.3 L720.5,287.1 L716.0,288.8 L711.5,290.6 L707.0,292.4 L702.5,294.2 L698.0,296.0 L693.6,297.8 L689.1,299.6 L684.6,301.4 L680.1,303.2 L675.7,305.0 L671.2,306.9 L666.7,308.7 L662.3,310.6 L657.8,312.4 L653.3,314.3 L648.9,316.2 L644.4,318.0 L640.0,319.9 L635.6,321.8 L631.1,323.7 L626.7,325.6 L622.2,327.6 L617.8,329.5 L613.4,331.4 L609.0,333.4 L604.5,335.3 L600.1,337.3 L595.7,339.2 L591.3,341.2 L586.9,343.2 L582.5,345.2 L578.1,347.2 L573.7,349.2 L569.3,351.2 L564.9,353.2 L560.5,355.2 L556.1,357.3 L551.8,359.3 L547.4,361.4 L543.0,363.4 L538.6,365.5 L534.3,367.5 L529.9,369.6 L525.6,371.7 L521.2,373.8 L516.9,375.9 L512.5,378.0 L508.2,380.1 L503.8,382.3 L499.5,384.4 L495.2,386.5 L490.8,388.7 L486.5,390.8 L482.2,393.0 L477.9,395.2 L473.6,397.3 L469.3,399.5 L465.0,401.7 L460.7,403.9 L456.4,406.1 L452.1,408.3 L447.8,410.6 L443.5,412.8 L439.2,415.0 L434.9,417.3 L430.7,419.6 L426.4,421.8 L422.2,424.1 L417.9,426.4 L413.7,428.7 L409.4,431.0 L405.2,433.3 L401.0,435.7 L396.7,438.0 L392.5,440.3 L388.3,442.7 L384.1,445.1 L379.9,447.5 L375.7,449.9 L371.5,452.3 L367.3,454.7 L363.2,457.1 L359.0,459.5 L354.8,462.0 L350.7,464.4 L346.5,466.9 L342.4,469.4 L338.3,471.9 L334.1,474.4 L330.0,476.9 L325.9,479.4 L321.8,482.0 L317.7,484.5 L313.6,487.1 L309.6,489.7 L305.5,492.3 L301.4,494.9 L297.4,497.5 L293.3,500.2 L289.3,502.8 L285.3,505.5 L281.3,508.1 L277.2,510.8 L273.2,513.5 L269.3,516.3 L265.3,519.0 L261.3,521.7 L257.3,524.5 L253.4,527.3 L249.4,530.1 L245.5,532.9 L241.6,535.7 L237.7,538.5 L233.8,541.4 L229.9,544.3 L226.0,547.1 L222.1,550.0 L218.3,553.0 L214.4,555.9 L210.6,558.8 L206.7,561.8 L202.9,564.8 L199.1,567.8 L195.3,570.8 L191.5,573.8 L187.8,576.9 L184.0,580.0 L180.3,583.0 L176.5,586.1 L172.8,589.3 L169.1,592.4 L165.4,595.6 L161.8,598.8 L158.2,602.0 L154.6,605.3 L151.0,608.5 L147.5,611.9 L144.0,615.2 L140.5,618.6 L137.1,622.0 L133.8,625.5 L130.5,629.0 L127.2,632.5 L124.0,636.1 L120.9,639.8 L117.8,643.5 L114.8,647.2 L111.8,651.0 L108.9,654.8 L106.1,658.7 L103.4,662.7 L100.7,666.7 L98.1,670.7 L95.6,674.9 L93.2,679.1 L90.9,683.3 L88.9,687.7 L87.1,692.1 L85.5,696.7 L84.2,701.3 L83.2,706.0 L82.5,710.8 L82.0,715.6 L81.7,720.5 L81.6,725.4 L81.7,730.3 L81.9,735.2 L82.2,740.1 L-50,760 Z"/>
  </svg>


  <!-- EN logo -->
  <svg class="abs" style="left:0;top:0" width="1280" height="720" viewBox="0 0 1280 720">
    <g fill="none" stroke="#e8001e" stroke-width="7.2">
      <path stroke-width="6.6" d="M28.2,291 C28.2,281.5 33,276.2 40.2,276.2 C47.5,276.2 51.8,281 51.8,289 M28.2,291 C28.2,301 33.5,306.6 41.5,306.6 C46,306.6 50,305.5 53.5,303.8"/>
      <path stroke-width="5" d="M27,289 H54.4"/>
      <path d="M69.6,310 V276.8 M69.6,288 C72,279.5 77.5,276.5 82.5,276.5 C89,276.5 91.9,280.5 91.9,287 V310"/>
    </g>
    <rect x="59.7" y="273.2" width="11" height="6" fill="#e8001e"/>
  </svg>
  <div class="abs" id="enx" style="left:110px;top:292.5px;font-size:17.7px;color:#888;-webkit-text-stroke:0.35px #888;white-space:nowrap;transform-origin:0 0;">Experimental Neurobiology</div>
  <!-- Keck -->
  <div class="abs" style="left:25px;top:319px;width:247px;height:128px;background:#fbfbfb"></div>
  <div class="abs" id="keck" style="left:24px;top:353px;transform:scaleX(0.925);font-family:'Liberation Serif',serif;font-size:33px;line-height:32.5px;color:#111;-webkit-text-stroke:0.4px #111;white-space:nowrap;transform-origin:0 0;">Keck School of<br>Medicine of <span style="color:#8c1a2b;-webkit-text-stroke:0.5px #8c1a2b">USC</span></div>

  <!-- MR Solutions -->
  <svg class="abs" style="left:0;top:0" width="1280" height="720" viewBox="0 0 1280 720">
    <defs>
      <radialGradient id="mrg" cx="0.3" cy="0.8" r="0.95" fx="0.35" fy="0.85">
        <stop offset="0" stop-color="#d6e2f2"/>
        <stop offset="0.18" stop-color="#94b4de"/>
        <stop offset="0.42" stop-color="#3a78c4"/>
        <stop offset="0.8" stop-color="#2458a8"/>
        <stop offset="1" stop-color="#1c4898"/>
      </radialGradient>
      <clipPath id="mrc"><circle cx="56.2" cy="485.3" r="31.4"/></clipPath>
    </defs>
    <circle cx="56.2" cy="485.3" r="31.4" fill="url(#mrg)"/>
    <g clip-path="url(#mrc)" fill="none" stroke-linecap="round">
      <circle cx="36" cy="508" r="30" stroke="#d8e6f6" stroke-opacity="0.7" stroke-width="1.4"/>
      <circle cx="32" cy="510" r="42" stroke="#a8c8ec" stroke-opacity="0.6" stroke-width="2"/>
      <circle cx="28" cy="512" r="53" stroke="#5aa2e6" stroke-opacity="0.8" stroke-width="2.6"/>
    </g>
    <text x="54.5" y="492.8" font-family="Liberation Sans" font-weight="bold" font-size="19" fill="#fff" textLength="28" lengthAdjust="spacingAndGlyphs">MR</text>
    <text x="90.5" y="492.8" font-family="Liberation Sans" font-size="19.2" fill="#2a7cc2" textLength="106" lengthAdjust="spacingAndGlyphs">SOLUTIONS</text>
  </svg>
  <!-- Publication spotlight -->
  <svg class="abs" style="left:0;top:0" width="1280" height="720" viewBox="0 0 1280 720">
    <g fill="#2c70bd">
      <path d="M1161.5,25.5 C1166,21 1172,19.5 1178,19.8 L1200,20.6 C1206,20 1212,16 1217,15.2 C1223,15 1229,20 1231,28 C1232,34 1229,39 1225,43 C1223,50 1222,58 1219,65 C1216,73 1210,80 1205,81 C1198,81 1190,76 1182,68 C1172,58 1164,45 1161,33 C1160.5,30 1160.8,27.5 1161.5,25.5 Z"/>
      <path d="M1166.5,118.5 C1168,112 1180,108.5 1197,108.5 C1214,108.5 1226,112 1227,118.5 Z"/>
    </g>
    <ellipse cx="1184.2" cy="51.8" rx="32.5" ry="9.6" transform="rotate(54 1184.2 51.8)" fill="#fff"/>
    <g fill="none" stroke="#2c70bd" stroke-width="2.6">
      <path d="M1224,39 L1257.5,57.5 L1198,109"/>
      <path d="M1222,45 L1250,58.5 L1192,108.5"/>
    </g>
    <text x="1108" y="74.5" font-family="Liberation Sans" font-size="52" fill="#111" textLength="80" lengthAdjust="spacingAndGlyphs" stroke="#111" stroke-width="1.1">publication</text>
    <g transform="translate(1160 100) rotate(-9) skewX(-18)"><text x="-30" y="6" font-family="Liberation Serif" font-style="italic" font-size="29" fill="#555" textLength="64" lengthAdjust="spacingAndGlyphs">Spotlight</text></g>
  </svg>
  <div id="title">Diffusion MRI Connections in the<br>Octopus Brain</div>
  <div id="author"><b>Author:</b> Russell E. Jacobs</div>
</div>
</body></html>
